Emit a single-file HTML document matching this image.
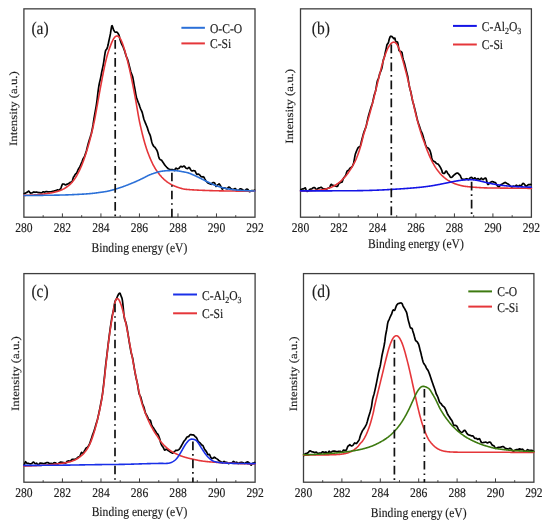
<!DOCTYPE html>
<html><head><meta charset="utf-8"><style>
html,body{margin:0;padding:0;background:#fff;}
svg{display:block;will-change:transform;}
text{font-family:"Liberation Serif",serif;fill:#1c1c1c;stroke:#1c1c1c;stroke-width:0.15px;text-rendering:geometricPrecision;}
.t{font-size:11.6px;}
.yl{font-size:11.1px;}
.lt{font-size:15.5px;}
.sub{font-size:8px;}
</style></head><body>
<svg width="550" height="528" viewBox="0 0 550 528">
<rect width="550" height="528" fill="#fff"/>
<rect x="23.90" y="8.85" width="231.10" height="208.35" fill="none" stroke="#3e3e3e" stroke-width="1.3"/>
<line x1="43.16" y1="217.20" x2="43.16" y2="215.20" stroke="#3e3e3e" stroke-width="1"/>
<line x1="62.42" y1="217.20" x2="62.42" y2="213.40" stroke="#3e3e3e" stroke-width="1"/>
<line x1="81.67" y1="217.20" x2="81.67" y2="215.20" stroke="#3e3e3e" stroke-width="1"/>
<line x1="100.93" y1="217.20" x2="100.93" y2="213.40" stroke="#3e3e3e" stroke-width="1"/>
<line x1="120.19" y1="217.20" x2="120.19" y2="215.20" stroke="#3e3e3e" stroke-width="1"/>
<line x1="139.45" y1="217.20" x2="139.45" y2="213.40" stroke="#3e3e3e" stroke-width="1"/>
<line x1="158.71" y1="217.20" x2="158.71" y2="215.20" stroke="#3e3e3e" stroke-width="1"/>
<line x1="177.97" y1="217.20" x2="177.97" y2="213.40" stroke="#3e3e3e" stroke-width="1"/>
<line x1="197.22" y1="217.20" x2="197.22" y2="215.20" stroke="#3e3e3e" stroke-width="1"/>
<line x1="216.48" y1="217.20" x2="216.48" y2="213.40" stroke="#3e3e3e" stroke-width="1"/>
<line x1="235.74" y1="217.20" x2="235.74" y2="215.20" stroke="#3e3e3e" stroke-width="1"/>
<rect x="300.50" y="8.85" width="230.90" height="208.35" fill="none" stroke="#3e3e3e" stroke-width="1.3"/>
<line x1="319.74" y1="217.20" x2="319.74" y2="215.20" stroke="#3e3e3e" stroke-width="1"/>
<line x1="338.98" y1="217.20" x2="338.98" y2="213.40" stroke="#3e3e3e" stroke-width="1"/>
<line x1="358.23" y1="217.20" x2="358.23" y2="215.20" stroke="#3e3e3e" stroke-width="1"/>
<line x1="377.47" y1="217.20" x2="377.47" y2="213.40" stroke="#3e3e3e" stroke-width="1"/>
<line x1="396.71" y1="217.20" x2="396.71" y2="215.20" stroke="#3e3e3e" stroke-width="1"/>
<line x1="415.95" y1="217.20" x2="415.95" y2="213.40" stroke="#3e3e3e" stroke-width="1"/>
<line x1="435.19" y1="217.20" x2="435.19" y2="215.20" stroke="#3e3e3e" stroke-width="1"/>
<line x1="454.43" y1="217.20" x2="454.43" y2="213.40" stroke="#3e3e3e" stroke-width="1"/>
<line x1="473.67" y1="217.20" x2="473.67" y2="215.20" stroke="#3e3e3e" stroke-width="1"/>
<line x1="492.92" y1="217.20" x2="492.92" y2="213.40" stroke="#3e3e3e" stroke-width="1"/>
<line x1="512.16" y1="217.20" x2="512.16" y2="215.20" stroke="#3e3e3e" stroke-width="1"/>
<rect x="23.90" y="273.60" width="231.20" height="208.60" fill="none" stroke="#3e3e3e" stroke-width="1.3"/>
<line x1="43.17" y1="482.20" x2="43.17" y2="480.20" stroke="#3e3e3e" stroke-width="1"/>
<line x1="62.43" y1="482.20" x2="62.43" y2="478.40" stroke="#3e3e3e" stroke-width="1"/>
<line x1="81.70" y1="482.20" x2="81.70" y2="480.20" stroke="#3e3e3e" stroke-width="1"/>
<line x1="100.97" y1="482.20" x2="100.97" y2="478.40" stroke="#3e3e3e" stroke-width="1"/>
<line x1="120.23" y1="482.20" x2="120.23" y2="480.20" stroke="#3e3e3e" stroke-width="1"/>
<line x1="139.50" y1="482.20" x2="139.50" y2="478.40" stroke="#3e3e3e" stroke-width="1"/>
<line x1="158.77" y1="482.20" x2="158.77" y2="480.20" stroke="#3e3e3e" stroke-width="1"/>
<line x1="178.03" y1="482.20" x2="178.03" y2="478.40" stroke="#3e3e3e" stroke-width="1"/>
<line x1="197.30" y1="482.20" x2="197.30" y2="480.20" stroke="#3e3e3e" stroke-width="1"/>
<line x1="216.57" y1="482.20" x2="216.57" y2="478.40" stroke="#3e3e3e" stroke-width="1"/>
<line x1="235.83" y1="482.20" x2="235.83" y2="480.20" stroke="#3e3e3e" stroke-width="1"/>
<rect x="303.50" y="273.60" width="230.40" height="208.60" fill="none" stroke="#3e3e3e" stroke-width="1.3"/>
<line x1="322.70" y1="482.20" x2="322.70" y2="480.20" stroke="#3e3e3e" stroke-width="1"/>
<line x1="341.90" y1="482.20" x2="341.90" y2="478.40" stroke="#3e3e3e" stroke-width="1"/>
<line x1="361.10" y1="482.20" x2="361.10" y2="480.20" stroke="#3e3e3e" stroke-width="1"/>
<line x1="380.30" y1="482.20" x2="380.30" y2="478.40" stroke="#3e3e3e" stroke-width="1"/>
<line x1="399.50" y1="482.20" x2="399.50" y2="480.20" stroke="#3e3e3e" stroke-width="1"/>
<line x1="418.70" y1="482.20" x2="418.70" y2="478.40" stroke="#3e3e3e" stroke-width="1"/>
<line x1="437.90" y1="482.20" x2="437.90" y2="480.20" stroke="#3e3e3e" stroke-width="1"/>
<line x1="457.10" y1="482.20" x2="457.10" y2="478.40" stroke="#3e3e3e" stroke-width="1"/>
<line x1="476.30" y1="482.20" x2="476.30" y2="480.20" stroke="#3e3e3e" stroke-width="1"/>
<line x1="495.50" y1="482.20" x2="495.50" y2="478.40" stroke="#3e3e3e" stroke-width="1"/>
<line x1="514.70" y1="482.20" x2="514.70" y2="480.20" stroke="#3e3e3e" stroke-width="1"/>
<text transform="translate(23.90,232.00) scale(1,1.15)" class="t" text-anchor="middle">280</text>
<text transform="translate(62.42,232.00) scale(1,1.15)" class="t" text-anchor="middle">282</text>
<text transform="translate(100.93,232.00) scale(1,1.15)" class="t" text-anchor="middle">284</text>
<text transform="translate(139.45,232.00) scale(1,1.15)" class="t" text-anchor="middle">286</text>
<text transform="translate(177.97,232.00) scale(1,1.15)" class="t" text-anchor="middle">288</text>
<text transform="translate(216.48,232.00) scale(1,1.15)" class="t" text-anchor="middle">290</text>
<text transform="translate(255.00,232.00) scale(1,1.15)" class="t" text-anchor="middle">292</text>
<text transform="translate(300.50,232.00) scale(1,1.15)" class="t" text-anchor="middle">280</text>
<text transform="translate(338.98,232.00) scale(1,1.15)" class="t" text-anchor="middle">282</text>
<text transform="translate(377.47,232.00) scale(1,1.15)" class="t" text-anchor="middle">284</text>
<text transform="translate(415.95,232.00) scale(1,1.15)" class="t" text-anchor="middle">286</text>
<text transform="translate(454.43,232.00) scale(1,1.15)" class="t" text-anchor="middle">288</text>
<text transform="translate(492.92,232.00) scale(1,1.15)" class="t" text-anchor="middle">290</text>
<text transform="translate(531.40,232.00) scale(1,1.15)" class="t" text-anchor="middle">292</text>
<text transform="translate(23.90,496.80) scale(1,1.15)" class="t" text-anchor="middle">280</text>
<text transform="translate(62.43,496.80) scale(1,1.15)" class="t" text-anchor="middle">282</text>
<text transform="translate(100.97,496.80) scale(1,1.15)" class="t" text-anchor="middle">284</text>
<text transform="translate(139.50,496.80) scale(1,1.15)" class="t" text-anchor="middle">286</text>
<text transform="translate(178.03,496.80) scale(1,1.15)" class="t" text-anchor="middle">288</text>
<text transform="translate(216.57,496.80) scale(1,1.15)" class="t" text-anchor="middle">290</text>
<text transform="translate(255.10,496.80) scale(1,1.15)" class="t" text-anchor="middle">292</text>
<text transform="translate(303.50,496.80) scale(1,1.15)" class="t" text-anchor="middle">280</text>
<text transform="translate(341.90,496.80) scale(1,1.15)" class="t" text-anchor="middle">282</text>
<text transform="translate(380.30,496.80) scale(1,1.15)" class="t" text-anchor="middle">284</text>
<text transform="translate(418.70,496.80) scale(1,1.15)" class="t" text-anchor="middle">286</text>
<text transform="translate(457.10,496.80) scale(1,1.15)" class="t" text-anchor="middle">288</text>
<text transform="translate(495.50,496.80) scale(1,1.15)" class="t" text-anchor="middle">290</text>
<text transform="translate(533.90,496.80) scale(1,1.15)" class="t" text-anchor="middle">292</text>
<text transform="translate(139.45,252.30) scale(1,1.15)" class="t" text-anchor="middle">Binding energy (eV)</text>
<text transform="translate(415.95,248.20) scale(1,1.15)" class="t" text-anchor="middle">Binding energy (eV)</text>
<text transform="translate(139.50,516.10) scale(1,1.15)" class="t" text-anchor="middle">Binding energy (eV)</text>
<text transform="translate(418.70,517.00) scale(1,1.15)" class="t" text-anchor="middle">Binding energy (eV)</text>
<text transform="translate(16.70,108.60) scale(1,1.15) rotate(-90)" class="yl" text-anchor="middle">Intensity (a.u.)</text>
<text transform="translate(293.40,106.40) scale(1,1.15) rotate(-90)" class="yl" text-anchor="middle">Intensity (a.u.)</text>
<text transform="translate(18.70,373.60) scale(1,1.15) rotate(-90)" class="yl" text-anchor="middle">Intensity (a.u.)</text>
<text transform="translate(297.00,373.80) scale(1,1.15) rotate(-90)" class="yl" text-anchor="middle">Intensity (a.u.)</text>
<text transform="translate(31.40,33.60) scale(1,1.15)" class="lt">(a)</text>
<text transform="translate(311.80,33.90) scale(1,1.15)" class="lt">(b)</text>
<text transform="translate(31.40,296.80) scale(1,1.15)" class="lt">(c)</text>
<text transform="translate(312.10,297.20) scale(1,1.15)" class="lt">(d)</text>
<path d="M24.30,193.45 L24.74,193.33 L25.19,193.23 L25.63,193.09 L26.07,192.83 L26.52,192.59 L26.96,192.39 L27.41,192.05 L27.85,191.68 L28.29,191.34 L28.74,191.11 L29.18,191.65 L29.62,192.20 L30.07,192.76 L30.51,193.05 L30.96,193.04 L31.40,193.01 L31.84,192.94 L32.29,192.74 L32.73,192.48 L33.17,192.18 L33.62,191.97 L34.06,192.07 L34.51,192.18 L34.95,192.29 L35.39,192.26 L35.84,192.17 L36.28,192.13 L36.72,192.14 L37.17,192.22 L37.61,192.33 L38.06,192.45 L38.50,192.54 L38.94,192.60 L39.39,192.63 L39.83,192.63 L40.27,192.71 L40.72,192.81 L41.16,192.89 L41.61,192.88 L42.05,192.58 L42.49,192.27 L42.94,191.96 L43.38,191.89 L43.82,191.96 L44.27,192.03 L44.71,192.07 L45.16,191.91 L45.60,191.74 L46.04,191.56 L46.49,191.52 L46.93,191.66 L47.37,191.82 L47.82,192.01 L48.26,191.96 L48.71,191.87 L49.15,191.80 L49.59,191.76 L50.04,191.75 L50.48,191.75 L50.92,191.74 L51.37,191.69 L51.81,191.61 L52.26,191.50 L52.70,191.29 L53.14,191.23 L53.59,191.12 L54.03,191.00 L54.47,190.86 L54.92,190.71 L55.36,190.61 L55.81,190.53 L56.25,190.37 L56.69,190.18 L57.14,189.98 L57.58,189.83 L58.02,189.97 L58.47,190.06 L58.91,190.11 L59.36,189.89 L59.80,189.48 L60.24,189.05 L60.69,188.62 L61.13,187.49 L61.57,186.27 L62.02,185.02 L62.46,184.16 L62.91,184.02 L63.35,184.02 L63.79,184.06 L64.24,184.28 L64.68,184.55 L65.12,184.83 L65.57,185.02 L66.01,184.84 L66.46,184.61 L66.90,184.33 L67.34,184.13 L67.79,183.98 L68.23,183.81 L68.67,183.63 L69.12,183.31 L69.56,182.94 L70.01,182.55 L70.45,182.26 L70.89,182.20 L71.34,182.10 L71.78,181.97 L72.22,181.00 L72.67,179.70 L73.11,178.35 L73.55,177.07 L74.00,176.45 L74.44,175.74 L74.89,174.97 L75.33,174.35 L75.77,173.90 L76.22,173.49 L76.66,173.13 L77.10,172.08 L77.55,170.99 L77.99,169.94 L78.44,169.00 L78.88,168.29 L79.32,167.58 L79.77,166.88 L80.21,165.98 L80.65,164.98 L81.10,163.95 L81.54,162.89 L81.99,161.79 L82.43,160.64 L82.87,159.43 L83.32,158.45 L83.76,157.74 L84.20,156.97 L84.65,156.14 L85.09,154.89 L85.54,153.56 L85.98,152.20 L86.42,150.74 L86.87,149.04 L87.31,147.26 L87.75,145.42 L88.20,143.83 L88.64,142.34 L89.09,140.84 L89.53,139.33 L89.97,137.89 L90.42,136.49 L90.86,135.08 L91.30,133.44 L91.75,131.50 L92.19,129.39 L92.64,127.05 L93.08,124.49 L93.52,121.54 L93.97,118.62 L94.41,116.04 L94.85,113.55 L95.30,111.14 L95.74,108.70 L96.19,106.08 L96.63,103.18 L97.07,99.82 L97.52,96.19 L97.96,92.46 L98.40,89.04 L98.85,86.14 L99.29,83.76 L99.74,81.80 L100.18,79.87 L100.62,77.84 L101.07,75.55 L101.51,73.23 L101.95,71.00 L102.40,68.93 L102.84,66.82 L103.29,64.61 L103.73,62.05 L104.17,58.93 L104.62,55.83 L105.06,53.20 L105.50,50.90 L105.95,49.96 L106.39,49.44 L106.84,48.92 L107.28,47.90 L107.72,46.33 L108.17,44.54 L108.61,42.27 L109.05,40.12 L109.50,38.10 L109.94,36.09 L110.39,33.90 L110.83,31.20 L111.27,28.40 L111.72,25.99 L112.16,25.71 L112.60,26.88 L113.05,28.36 L113.49,29.75 L113.94,30.44 L114.38,31.17 L114.82,31.82 L115.27,32.22 L115.71,32.26 L116.15,32.15 L116.60,31.98 L117.04,32.26 L117.48,32.74 L117.93,33.32 L118.37,33.97 L118.82,34.67 L119.26,35.96 L119.70,38.01 L120.15,39.84 L120.59,41.24 L121.03,42.51 L121.48,43.72 L121.92,44.54 L122.37,45.39 L122.81,46.26 L123.25,47.25 L123.70,48.43 L124.14,49.60 L124.58,50.77 L125.03,52.20 L125.47,53.68 L125.92,55.13 L126.36,56.53 L126.80,57.51 L127.25,58.57 L127.69,59.73 L128.13,61.21 L128.58,62.92 L129.02,64.65 L129.47,66.42 L129.91,68.18 L130.35,69.94 L130.80,71.70 L131.24,73.20 L131.68,74.21 L132.13,75.28 L132.57,76.45 L133.02,78.53 L133.46,81.01 L133.90,83.56 L134.35,86.12 L134.79,88.50 L135.23,90.91 L135.68,93.52 L136.12,95.85 L136.57,97.71 L137.01,99.18 L137.45,100.32 L137.90,101.51 L138.34,102.61 L138.78,103.62 L139.23,104.73 L139.67,106.19 L140.12,107.52 L140.56,108.79 L141.00,109.72 L141.45,110.57 L141.89,111.58 L142.33,112.88 L142.78,114.62 L143.22,116.46 L143.67,118.28 L144.11,119.76 L144.55,120.90 L145.00,122.02 L145.44,123.11 L145.88,124.19 L146.33,125.24 L146.77,126.24 L147.22,127.34 L147.66,128.79 L148.10,130.16 L148.55,131.50 L148.99,132.57 L149.43,133.55 L149.88,134.61 L150.32,135.80 L150.77,137.58 L151.21,139.51 L151.65,141.43 L152.10,143.03 L152.54,144.10 L152.98,145.01 L153.43,145.85 L153.87,146.37 L154.32,146.79 L154.76,147.16 L155.20,147.61 L155.65,148.41 L156.09,149.09 L156.53,149.70 L156.98,150.56 L157.42,151.68 L157.87,153.07 L158.31,155.18 L158.75,157.00 L159.20,158.31 L159.64,159.04 L160.08,159.53 L160.53,159.77 L160.97,159.95 L161.42,160.10 L161.86,160.61 L162.30,161.25 L162.75,161.93 L163.19,162.63 L163.63,163.30 L164.08,163.97 L164.52,164.63 L164.96,165.22 L165.41,165.75 L165.85,166.25 L166.30,166.71 L166.74,167.21 L167.18,167.68 L167.63,168.16 L168.07,168.56 L168.51,168.81 L168.96,169.04 L169.40,169.24 L169.85,169.44 L170.29,169.60 L170.73,169.69 L171.18,169.71 L171.62,169.68 L172.06,169.65 L172.51,169.61 L172.95,169.76 L173.40,170.05 L173.84,170.33 L174.28,170.62 L174.73,169.94 L175.17,169.22 L175.61,168.50 L176.06,168.19 L176.50,168.55 L176.95,168.81 L177.39,169.02 L177.83,168.87 L178.28,168.62 L178.72,168.39 L179.16,168.14 L179.61,167.58 L180.05,167.01 L180.50,166.45 L180.94,166.28 L181.38,166.47 L181.83,166.70 L182.27,166.97 L182.71,166.70 L183.16,166.39 L183.60,166.10 L184.05,166.01 L184.49,166.33 L184.93,166.80 L185.38,167.50 L185.82,167.93 L186.26,168.23 L186.71,168.44 L187.15,168.50 L187.60,168.57 L188.04,168.21 L188.48,167.73 L188.93,167.44 L189.37,167.60 L189.81,168.17 L190.26,169.00 L190.70,169.68 L191.15,170.30 L191.59,170.74 L192.03,170.87 L192.48,170.85 L192.92,170.78 L193.36,170.69 L193.81,170.69 L194.25,170.75 L194.70,170.85 L195.14,171.03 L195.58,172.00 L196.03,172.98 L196.47,173.96 L196.91,174.42 L197.36,174.30 L197.80,174.20 L198.25,174.09 L198.69,174.29 L199.13,174.58 L199.58,174.90 L200.02,175.29 L200.46,175.87 L200.91,176.37 L201.35,176.77 L201.80,176.86 L202.24,176.79 L202.68,176.72 L203.13,176.67 L203.57,176.89 L204.01,177.33 L204.46,178.18 L204.90,179.10 L205.35,179.91 L205.79,180.67 L206.23,181.25 L206.68,181.71 L207.12,182.18 L207.56,182.64 L208.01,183.02 L208.45,183.25 L208.89,183.40 L209.34,183.47 L209.78,183.70 L210.23,183.96 L210.67,184.16 L211.11,184.29 L211.56,183.85 L212.00,183.39 L212.44,182.91 L212.89,182.66 L213.33,182.67 L213.78,182.68 L214.22,182.80 L214.66,183.03 L215.11,184.00 L215.55,185.38 L215.99,186.48 L216.44,186.28 L216.88,185.68 L217.33,185.06 L217.77,184.71 L218.21,184.52 L218.66,184.31 L219.10,183.95 L219.54,184.39 L219.99,184.93 L220.43,185.70 L220.88,186.57 L221.32,187.41 L221.76,188.29 L222.21,189.13 L222.65,188.94 L223.09,188.50 L223.54,188.08 L223.98,187.76 L224.43,187.97 L224.87,188.11 L225.31,188.17 L225.76,188.36 L226.20,188.62 L226.64,188.80 L227.09,188.93 L227.53,188.39 L227.98,187.84 L228.42,187.36 L228.86,187.09 L229.31,187.21 L229.75,187.51 L230.19,187.93 L230.64,188.37 L231.08,188.77 L231.53,189.09 L231.97,189.27 L232.41,189.41 L232.86,189.50 L233.30,189.54 L233.74,189.36 L234.19,189.02 L234.63,188.73 L235.08,188.51 L235.52,188.77 L235.96,189.21 L236.41,189.73 L236.85,190.19 L237.29,190.43 L237.74,190.55 L238.18,190.48 L238.63,190.21 L239.07,189.82 L239.51,189.38 L239.96,188.97 L240.40,188.83 L240.84,188.81 L241.29,188.96 L241.73,189.19 L242.18,189.44 L242.62,189.75 L243.06,190.03 L243.51,190.52 L243.95,190.87 L244.39,191.01 L244.84,190.90 L245.28,190.43 L245.73,189.92 L246.17,189.45 L246.61,189.21 L247.06,189.16 L247.50,189.23 L247.94,189.42 L248.39,190.12 L248.83,190.83 L249.28,191.51 L249.72,191.72 L250.16,191.43 L250.61,191.10 L251.05,190.77 L251.49,190.70 L251.94,190.65 L252.38,190.59 L252.83,190.54 L253.27,190.55 L253.71,190.53 L254.16,190.49 L254.60,190.21" fill="none" stroke="#000" stroke-width="1.7" stroke-linejoin="round" stroke-linecap="round"/>
<path d="M23.90,195.40 L24.29,195.39 L24.67,195.38 L25.06,195.36 L25.44,195.35 L25.83,195.34 L26.21,195.32 L26.60,195.31 L26.99,195.29 L27.37,195.28 L27.76,195.26 L28.14,195.25 L28.53,195.23 L28.92,195.21 L29.30,195.20 L29.69,195.18 L30.07,195.16 L30.46,195.14 L30.84,195.13 L31.23,195.11 L31.62,195.09 L32.00,195.07 L32.39,195.05 L32.77,195.03 L33.16,195.01 L33.55,194.98 L33.93,194.95 L34.32,194.92 L34.70,194.89 L35.09,194.86 L35.47,194.83 L35.86,194.79 L36.25,194.76 L36.63,194.72 L37.02,194.68 L37.40,194.65 L37.79,194.61 L38.17,194.57 L38.56,194.53 L38.95,194.49 L39.33,194.45 L39.72,194.41 L40.10,194.37 L40.49,194.33 L40.88,194.29 L41.26,194.25 L41.65,194.21 L42.03,194.17 L42.42,194.12 L42.80,194.08 L43.19,194.03 L43.58,193.99 L43.96,193.94 L44.35,193.89 L44.73,193.84 L45.12,193.79 L45.51,193.74 L45.89,193.69 L46.28,193.64 L46.66,193.58 L47.05,193.53 L47.43,193.47 L47.82,193.41 L48.21,193.35 L48.59,193.29 L48.98,193.23 L49.36,193.17 L49.75,193.11 L50.14,193.04 L50.52,192.98 L50.91,192.91 L51.29,192.84 L51.68,192.76 L52.06,192.69 L52.45,192.61 L52.84,192.54 L53.22,192.46 L53.61,192.37 L53.99,192.29 L54.38,192.20 L54.76,192.11 L55.15,192.02 L55.54,191.92 L55.92,191.82 L56.31,191.72 L56.69,191.62 L57.08,191.51 L57.47,191.39 L57.85,191.28 L58.24,191.16 L58.62,191.03 L59.01,190.90 L59.39,190.77 L59.78,190.63 L60.17,190.49 L60.55,190.34 L60.94,190.18 L61.32,190.01 L61.71,189.84 L62.10,189.67 L62.48,189.49 L62.87,189.30 L63.25,189.10 L63.64,188.90 L64.02,188.69 L64.41,188.47 L64.80,188.25 L65.18,188.02 L65.57,187.78 L65.95,187.54 L66.34,187.28 L66.72,187.02 L67.11,186.75 L67.50,186.47 L67.88,186.18 L68.27,185.88 L68.65,185.57 L69.04,185.24 L69.43,184.91 L69.81,184.56 L70.20,184.20 L70.58,183.82 L70.97,183.43 L71.35,183.03 L71.74,182.61 L72.13,182.18 L72.51,181.73 L72.90,181.26 L73.28,180.78 L73.67,180.27 L74.06,179.75 L74.44,179.21 L74.83,178.65 L75.21,178.08 L75.60,177.48 L75.98,176.86 L76.37,176.23 L76.76,175.57 L77.14,174.89 L77.53,174.20 L77.91,173.48 L78.30,172.74 L78.68,171.99 L79.07,171.21 L79.46,170.42 L79.84,169.60 L80.23,168.77 L80.61,167.91 L81.00,167.03 L81.39,166.12 L81.77,165.19 L82.16,164.23 L82.54,163.24 L82.93,162.23 L83.31,161.19 L83.70,160.12 L84.09,159.03 L84.47,157.91 L84.86,156.77 L85.24,155.60 L85.63,154.41 L86.02,153.19 L86.40,151.95 L86.79,150.70 L87.17,149.43 L87.56,148.16 L87.94,146.86 L88.33,145.55 L88.72,144.21 L89.10,142.84 L89.49,141.44 L89.87,140.01 L90.26,138.57 L90.65,137.11 L91.03,135.63 L91.42,134.11 L91.80,132.54 L92.19,130.91 L92.57,129.23 L92.96,127.49 L93.35,125.73 L93.73,123.94 L94.12,122.14 L94.50,120.31 L94.89,118.45 L95.27,116.41 L95.66,114.22 L96.05,111.99 L96.43,109.81 L96.82,107.67 L97.20,105.53 L97.59,103.38 L97.98,101.23 L98.36,99.09 L98.75,96.94 L99.13,94.81 L99.52,92.68 L99.90,90.57 L100.29,88.47 L100.68,86.39 L101.06,84.33 L101.45,82.28 L101.83,80.24 L102.22,78.22 L102.61,76.22 L102.99,74.23 L103.38,72.28 L103.76,70.36 L104.15,68.48 L104.53,66.64 L104.92,64.84 L105.31,63.12 L105.69,61.47 L106.08,59.89 L106.46,58.35 L106.85,56.86 L107.23,55.43 L107.62,54.10 L108.01,52.84 L108.39,51.63 L108.78,50.46 L109.16,49.30 L109.55,48.18 L109.94,47.12 L110.32,46.10 L110.71,45.10 L111.09,44.11 L111.48,43.12 L111.86,42.19 L112.25,41.31 L112.64,40.50 L113.02,39.75 L113.41,39.07 L113.79,38.45 L114.18,37.90 L114.57,37.41 L114.95,36.99 L115.34,36.65 L115.72,36.38 L116.11,36.18 L116.49,36.05 L116.88,36.00 L117.27,36.02 L117.65,36.11 L118.04,36.26 L118.42,36.49 L118.81,36.80 L119.19,37.18 L119.58,37.64 L119.97,38.18 L120.35,38.79 L120.74,39.47 L121.12,40.22 L121.51,41.05 L121.90,41.94 L122.28,42.90 L122.67,43.93 L123.05,45.03 L123.44,46.18 L123.82,47.40 L124.21,48.66 L124.60,49.98 L124.98,51.34 L125.37,52.76 L125.75,54.21 L126.14,55.69 L126.53,57.13 L126.91,58.52 L127.30,59.93 L127.68,61.41 L128.07,62.97 L128.45,64.57 L128.84,66.20 L129.23,67.86 L129.61,69.56 L130.00,71.29 L130.38,73.05 L130.77,74.86 L131.16,76.70 L131.54,78.59 L131.93,80.51 L132.31,82.45 L132.70,84.40 L133.08,86.37 L133.47,88.35 L133.86,90.34 L134.24,92.34 L134.63,94.35 L135.01,96.37 L135.40,98.48 L135.78,100.66 L136.17,102.88 L136.56,105.12 L136.94,107.35 L137.33,109.53 L137.71,111.75 L138.10,114.02 L138.49,116.26 L138.87,118.42 L139.26,120.43 L139.64,122.24 L140.03,123.99 L140.41,125.72 L140.80,127.41 L141.19,129.09 L141.57,130.74 L141.96,132.36 L142.34,133.95 L142.73,135.52 L143.12,137.04 L143.50,138.51 L143.89,139.93 L144.27,141.31 L144.66,142.66 L145.04,143.96 L145.43,145.23 L145.82,146.47 L146.20,147.69 L146.59,148.88 L146.97,150.03 L147.36,151.15 L147.74,152.22 L148.13,153.26 L148.52,154.27 L148.90,155.25 L149.29,156.22 L149.67,157.16 L150.06,158.09 L150.45,159.01 L150.83,159.90 L151.22,160.77 L151.60,161.62 L151.99,162.45 L152.37,163.25 L152.76,164.03 L153.15,164.79 L153.53,165.52 L153.92,166.24 L154.30,166.93 L154.69,167.61 L155.08,168.26 L155.46,168.88 L155.85,169.48 L156.23,170.06 L156.62,170.62 L157.00,171.16 L157.39,171.69 L157.78,172.20 L158.16,172.71 L158.55,173.21 L158.93,173.70 L159.32,174.20 L159.71,174.68 L160.09,175.16 L160.48,175.62 L160.86,176.07 L161.25,176.52 L161.63,176.95 L162.02,177.37 L162.41,177.77 L162.79,178.17 L163.18,178.55 L163.56,178.93 L163.95,179.29 L164.33,179.64 L164.72,179.97 L165.11,180.30 L165.49,180.61 L165.88,180.91 L166.26,181.21 L166.65,181.50 L167.04,181.79 L167.42,182.07 L167.81,182.34 L168.19,182.61 L168.58,182.87 L168.96,183.12 L169.35,183.37 L169.74,183.61 L170.12,183.84 L170.51,184.07 L170.89,184.29 L171.28,184.50 L171.67,184.71 L172.05,184.91 L172.44,185.11 L172.82,185.29 L173.21,185.47 L173.59,185.65 L173.98,185.82 L174.37,185.99 L174.75,186.15 L175.14,186.31 L175.52,186.47 L175.91,186.62 L176.29,186.77 L176.68,186.92 L177.07,187.06 L177.45,187.20 L177.84,187.33 L178.22,187.46 L178.61,187.59 L179.00,187.71 L179.38,187.83 L179.77,187.95 L180.15,188.06 L180.54,188.17 L180.92,188.28 L181.31,188.39 L181.70,188.50 L182.08,188.62 L182.47,188.72 L182.85,188.83 L183.24,188.92 L183.63,189.01 L184.01,189.09 L184.40,189.16 L184.78,189.21 L185.17,189.25 L185.55,189.29 L185.94,189.33 L186.33,189.37 L186.71,189.40 L187.10,189.44 L187.48,189.47 L187.87,189.50 L188.25,189.53 L188.64,189.56 L189.03,189.59 L189.41,189.62 L189.80,189.65 L190.18,189.68 L190.57,189.71 L190.96,189.73 L191.34,189.76 L191.73,189.78 L192.11,189.81 L192.50,189.83 L192.88,189.86 L193.27,189.88 L193.66,189.90 L194.04,189.93 L194.43,189.95 L194.81,189.97 L195.20,189.99 L195.59,190.01 L195.97,190.03 L196.36,190.05 L196.74,190.07 L197.13,190.09 L197.51,190.11 L197.90,190.13 L198.29,190.15 L198.67,190.17 L199.06,190.18 L199.44,190.20 L199.83,190.22 L200.22,190.24 L200.60,190.25 L200.99,190.27 L201.37,190.29 L201.76,190.30 L202.14,190.32 L202.53,190.33 L202.92,190.35 L203.30,190.36 L203.69,190.38 L204.07,190.39 L204.46,190.41 L204.84,190.42 L205.23,190.44 L205.62,190.45 L206.00,190.46 L206.39,190.48 L206.77,190.49 L207.16,190.51 L207.55,190.52 L207.93,190.53 L208.32,190.54 L208.70,190.56 L209.09,190.57 L209.47,190.58 L209.86,190.59 L210.25,190.60 L210.63,190.62 L211.02,190.63 L211.40,190.64 L211.79,190.65 L212.18,190.66 L212.56,190.67 L212.95,190.68 L213.33,190.69 L213.72,190.70 L214.10,190.71 L214.49,190.72 L214.88,190.73 L215.26,190.74 L215.65,190.75 L216.03,190.76 L216.42,190.77 L216.80,190.78 L217.19,190.79 L217.58,190.80 L217.96,190.81 L218.35,190.82 L218.73,190.82 L219.12,190.83 L219.51,190.84 L219.89,190.85 L220.28,190.86 L220.66,190.86 L221.05,190.87 L221.43,190.88 L221.82,190.89 L222.21,190.89 L222.59,190.90 L222.98,190.91 L223.36,190.92 L223.75,190.92 L224.14,190.93 L224.52,190.94 L224.91,190.94 L225.29,190.95 L225.68,190.96 L226.06,190.96 L226.45,190.97 L226.84,190.97 L227.22,190.98 L227.61,190.99 L227.99,190.99 L228.38,191.00 L228.76,191.00 L229.15,191.01 L229.54,191.01 L229.92,191.02 L230.31,191.02 L230.69,191.03 L231.08,191.03 L231.47,191.04 L231.85,191.04 L232.24,191.05 L232.62,191.05 L233.01,191.05 L233.39,191.06 L233.78,191.06 L234.17,191.06 L234.55,191.07 L234.94,191.07 L235.32,191.07 L235.71,191.08 L236.10,191.08 L236.48,191.08 L236.87,191.08 L237.25,191.09 L237.64,191.09 L238.02,191.09 L238.41,191.09 L238.80,191.09 L239.18,191.10 L239.57,191.10 L239.95,191.10 L240.34,191.10 L240.73,191.10 L241.11,191.10 L241.50,191.10 L241.88,191.10 L242.27,191.10 L242.65,191.10 L243.04,191.11 L243.43,191.11 L243.81,191.11 L244.20,191.11 L244.58,191.11 L244.97,191.11 L245.35,191.11 L245.74,191.11 L246.13,191.11 L246.51,191.11 L246.90,191.11 L247.28,191.10 L247.67,191.10 L248.06,191.10 L248.44,191.10 L248.83,191.10 L249.21,191.10 L249.60,191.10 L249.98,191.10 L250.37,191.10 L250.76,191.10 L251.14,191.10 L251.53,191.09 L251.91,191.09 L252.30,191.09 L252.69,191.09 L253.07,191.09 L253.46,191.09 L253.84,191.09 L254.23,191.09 L254.61,191.09 L255.00,191.10" fill="none" stroke="#e5363a" stroke-width="1.6" stroke-linejoin="round" stroke-linecap="round"/>
<path d="M23.90,195.49 L24.29,195.49 L24.67,195.49 L25.06,195.48 L25.44,195.48 L25.83,195.48 L26.21,195.48 L26.60,195.48 L26.99,195.47 L27.37,195.47 L27.76,195.47 L28.14,195.47 L28.53,195.46 L28.92,195.46 L29.30,195.46 L29.69,195.46 L30.07,195.45 L30.46,195.45 L30.84,195.45 L31.23,195.45 L31.62,195.44 L32.00,195.44 L32.39,195.44 L32.77,195.43 L33.16,195.43 L33.55,195.43 L33.93,195.42 L34.32,195.42 L34.70,195.42 L35.09,195.41 L35.47,195.41 L35.86,195.41 L36.25,195.40 L36.63,195.40 L37.02,195.40 L37.40,195.39 L37.79,195.39 L38.17,195.38 L38.56,195.38 L38.95,195.38 L39.33,195.37 L39.72,195.37 L40.10,195.36 L40.49,195.36 L40.88,195.36 L41.26,195.35 L41.65,195.35 L42.03,195.34 L42.42,195.34 L42.80,195.33 L43.19,195.33 L43.58,195.32 L43.96,195.32 L44.35,195.31 L44.73,195.31 L45.12,195.30 L45.51,195.30 L45.89,195.29 L46.28,195.29 L46.66,195.28 L47.05,195.28 L47.43,195.27 L47.82,195.27 L48.21,195.26 L48.59,195.26 L48.98,195.25 L49.36,195.25 L49.75,195.24 L50.14,195.24 L50.52,195.23 L50.91,195.22 L51.29,195.22 L51.68,195.21 L52.06,195.21 L52.45,195.20 L52.84,195.19 L53.22,195.19 L53.61,195.18 L53.99,195.18 L54.38,195.17 L54.76,195.16 L55.15,195.16 L55.54,195.15 L55.92,195.14 L56.31,195.14 L56.69,195.13 L57.08,195.12 L57.47,195.12 L57.85,195.11 L58.24,195.10 L58.62,195.09 L59.01,195.09 L59.39,195.08 L59.78,195.07 L60.17,195.06 L60.55,195.06 L60.94,195.05 L61.32,195.04 L61.71,195.03 L62.10,195.02 L62.48,195.01 L62.87,195.00 L63.25,194.99 L63.64,194.98 L64.02,194.97 L64.41,194.96 L64.80,194.94 L65.18,194.93 L65.57,194.92 L65.95,194.91 L66.34,194.89 L66.72,194.88 L67.11,194.87 L67.50,194.85 L67.88,194.84 L68.27,194.83 L68.65,194.81 L69.04,194.80 L69.43,194.78 L69.81,194.77 L70.20,194.75 L70.58,194.74 L70.97,194.72 L71.35,194.70 L71.74,194.69 L72.13,194.67 L72.51,194.66 L72.90,194.64 L73.28,194.62 L73.67,194.60 L74.06,194.59 L74.44,194.57 L74.83,194.55 L75.21,194.53 L75.60,194.52 L75.98,194.50 L76.37,194.48 L76.76,194.46 L77.14,194.44 L77.53,194.42 L77.91,194.40 L78.30,194.38 L78.68,194.36 L79.07,194.34 L79.46,194.32 L79.84,194.30 L80.23,194.28 L80.61,194.26 L81.00,194.24 L81.39,194.22 L81.77,194.20 L82.16,194.17 L82.54,194.15 L82.93,194.13 L83.31,194.11 L83.70,194.08 L84.09,194.06 L84.47,194.03 L84.86,194.01 L85.24,193.98 L85.63,193.96 L86.02,193.93 L86.40,193.90 L86.79,193.87 L87.17,193.84 L87.56,193.81 L87.94,193.78 L88.33,193.75 L88.72,193.72 L89.10,193.69 L89.49,193.65 L89.87,193.62 L90.26,193.58 L90.65,193.55 L91.03,193.51 L91.42,193.47 L91.80,193.43 L92.19,193.39 L92.57,193.35 L92.96,193.31 L93.35,193.27 L93.73,193.23 L94.12,193.18 L94.50,193.14 L94.89,193.09 L95.27,193.04 L95.66,192.99 L96.05,192.94 L96.43,192.89 L96.82,192.84 L97.20,192.79 L97.59,192.73 L97.98,192.68 L98.36,192.62 L98.75,192.57 L99.13,192.51 L99.52,192.46 L99.90,192.41 L100.29,192.36 L100.68,192.30 L101.06,192.25 L101.45,192.20 L101.83,192.15 L102.22,192.09 L102.61,192.04 L102.99,191.98 L103.38,191.93 L103.76,191.87 L104.15,191.81 L104.53,191.75 L104.92,191.69 L105.31,191.63 L105.69,191.56 L106.08,191.50 L106.46,191.43 L106.85,191.36 L107.23,191.28 L107.62,191.21 L108.01,191.13 L108.39,191.05 L108.78,190.96 L109.16,190.87 L109.55,190.78 L109.94,190.69 L110.32,190.59 L110.71,190.49 L111.09,190.39 L111.48,190.29 L111.86,190.19 L112.25,190.08 L112.64,189.98 L113.02,189.87 L113.41,189.76 L113.79,189.65 L114.18,189.54 L114.57,189.43 L114.95,189.32 L115.34,189.20 L115.72,189.08 L116.11,188.97 L116.49,188.85 L116.88,188.73 L117.27,188.60 L117.65,188.48 L118.04,188.36 L118.42,188.23 L118.81,188.10 L119.19,187.98 L119.58,187.85 L119.97,187.72 L120.35,187.58 L120.74,187.45 L121.12,187.32 L121.51,187.18 L121.90,187.05 L122.28,186.91 L122.67,186.77 L123.05,186.63 L123.44,186.49 L123.82,186.35 L124.21,186.21 L124.60,186.07 L124.98,185.92 L125.37,185.78 L125.75,185.63 L126.14,185.48 L126.53,185.34 L126.91,185.19 L127.30,185.04 L127.68,184.89 L128.07,184.74 L128.45,184.58 L128.84,184.43 L129.23,184.28 L129.61,184.13 L130.00,183.97 L130.38,183.82 L130.77,183.66 L131.16,183.50 L131.54,183.35 L131.93,183.19 L132.31,183.03 L132.70,182.87 L133.08,182.71 L133.47,182.55 L133.86,182.39 L134.24,182.23 L134.63,182.07 L135.01,181.91 L135.40,181.74 L135.78,181.58 L136.17,181.41 L136.56,181.24 L136.94,181.07 L137.33,180.89 L137.71,180.71 L138.10,180.54 L138.49,180.36 L138.87,180.17 L139.26,179.99 L139.64,179.81 L140.03,179.63 L140.41,179.44 L140.80,179.26 L141.19,179.07 L141.57,178.89 L141.96,178.70 L142.34,178.52 L142.73,178.33 L143.12,178.15 L143.50,177.95 L143.89,177.76 L144.27,177.56 L144.66,177.36 L145.04,177.15 L145.43,176.95 L145.82,176.74 L146.20,176.54 L146.59,176.34 L146.97,176.14 L147.36,175.94 L147.74,175.75 L148.13,175.56 L148.52,175.37 L148.90,175.19 L149.29,175.02 L149.67,174.86 L150.06,174.70 L150.45,174.55 L150.83,174.40 L151.22,174.26 L151.60,174.11 L151.99,173.97 L152.37,173.83 L152.76,173.69 L153.15,173.56 L153.53,173.42 L153.92,173.29 L154.30,173.16 L154.69,173.03 L155.08,172.91 L155.46,172.78 L155.85,172.66 L156.23,172.54 L156.62,172.43 L157.00,172.31 L157.39,172.20 L157.78,172.09 L158.16,171.98 L158.55,171.88 L158.93,171.79 L159.32,171.70 L159.71,171.62 L160.09,171.54 L160.48,171.47 L160.86,171.40 L161.25,171.33 L161.63,171.27 L162.02,171.21 L162.41,171.16 L162.79,171.11 L163.18,171.06 L163.56,171.01 L163.95,170.96 L164.33,170.92 L164.72,170.87 L165.11,170.83 L165.49,170.79 L165.88,170.75 L166.26,170.72 L166.65,170.69 L167.04,170.67 L167.42,170.65 L167.81,170.63 L168.19,170.61 L168.58,170.60 L168.96,170.59 L169.35,170.58 L169.74,170.58 L170.12,170.57 L170.51,170.57 L170.89,170.57 L171.28,170.57 L171.67,170.57 L172.05,170.57 L172.44,170.57 L172.82,170.56 L173.21,170.56 L173.59,170.57 L173.98,170.57 L174.37,170.59 L174.75,170.60 L175.14,170.62 L175.52,170.65 L175.91,170.68 L176.29,170.71 L176.68,170.75 L177.07,170.79 L177.45,170.83 L177.84,170.88 L178.22,170.94 L178.61,170.99 L179.00,171.06 L179.38,171.12 L179.77,171.19 L180.15,171.26 L180.54,171.34 L180.92,171.41 L181.31,171.48 L181.70,171.55 L182.08,171.62 L182.47,171.68 L182.85,171.74 L183.24,171.81 L183.63,171.87 L184.01,171.94 L184.40,172.02 L184.78,172.10 L185.17,172.18 L185.55,172.26 L185.94,172.34 L186.33,172.42 L186.71,172.50 L187.10,172.58 L187.48,172.67 L187.87,172.77 L188.25,172.88 L188.64,173.00 L189.03,173.14 L189.41,173.29 L189.80,173.44 L190.18,173.59 L190.57,173.75 L190.96,173.91 L191.34,174.07 L191.73,174.24 L192.11,174.40 L192.50,174.57 L192.88,174.74 L193.27,174.91 L193.66,175.08 L194.04,175.26 L194.43,175.44 L194.81,175.61 L195.20,175.79 L195.59,175.97 L195.97,176.15 L196.36,176.33 L196.74,176.51 L197.13,176.70 L197.51,176.88 L197.90,177.06 L198.29,177.25 L198.67,177.44 L199.06,177.62 L199.44,177.81 L199.83,178.00 L200.22,178.19 L200.60,178.39 L200.99,178.58 L201.37,178.77 L201.76,178.97 L202.14,179.16 L202.53,179.36 L202.92,179.55 L203.30,179.75 L203.69,179.94 L204.07,180.14 L204.46,180.33 L204.84,180.52 L205.23,180.72 L205.62,180.91 L206.00,181.10 L206.39,181.29 L206.77,181.47 L207.16,181.66 L207.55,181.84 L207.93,182.03 L208.32,182.22 L208.70,182.40 L209.09,182.59 L209.47,182.78 L209.86,182.96 L210.25,183.15 L210.63,183.33 L211.02,183.51 L211.40,183.70 L211.79,183.88 L212.18,184.05 L212.56,184.23 L212.95,184.40 L213.33,184.57 L213.72,184.74 L214.10,184.90 L214.49,185.06 L214.88,185.21 L215.26,185.36 L215.65,185.51 L216.03,185.65 L216.42,185.79 L216.80,185.92 L217.19,186.06 L217.58,186.19 L217.96,186.31 L218.35,186.44 L218.73,186.56 L219.12,186.68 L219.51,186.80 L219.89,186.92 L220.28,187.04 L220.66,187.15 L221.05,187.26 L221.43,187.37 L221.82,187.47 L222.21,187.58 L222.59,187.68 L222.98,187.78 L223.36,187.88 L223.75,187.97 L224.14,188.07 L224.52,188.16 L224.91,188.25 L225.29,188.33 L225.68,188.42 L226.06,188.50 L226.45,188.58 L226.84,188.66 L227.22,188.74 L227.61,188.81 L227.99,188.89 L228.38,188.96 L228.76,189.03 L229.15,189.09 L229.54,189.16 L229.92,189.22 L230.31,189.28 L230.69,189.34 L231.08,189.40 L231.47,189.46 L231.85,189.51 L232.24,189.57 L232.62,189.62 L233.01,189.67 L233.39,189.72 L233.78,189.76 L234.17,189.81 L234.55,189.85 L234.94,189.90 L235.32,189.94 L235.71,189.98 L236.10,190.02 L236.48,190.06 L236.87,190.09 L237.25,190.13 L237.64,190.16 L238.02,190.20 L238.41,190.23 L238.80,190.26 L239.18,190.29 L239.57,190.31 L239.95,190.34 L240.34,190.36 L240.73,190.38 L241.11,190.41 L241.50,190.43 L241.88,190.45 L242.27,190.47 L242.65,190.48 L243.04,190.50 L243.43,190.52 L243.81,190.54 L244.20,190.56 L244.58,190.58 L244.97,190.60 L245.35,190.62 L245.74,190.63 L246.13,190.65 L246.51,190.67 L246.90,190.69 L247.28,190.71 L247.67,190.73 L248.06,190.74 L248.44,190.76 L248.83,190.78 L249.21,190.79 L249.60,190.81 L249.98,190.83 L250.37,190.84 L250.76,190.86 L251.14,190.87 L251.53,190.89 L251.91,190.91 L252.30,190.92 L252.69,190.94 L253.07,190.95 L253.46,190.97 L253.84,190.97 L254.23,190.98 L254.61,190.99 L255.00,191.00" fill="none" stroke="#2b70d8" stroke-width="1.6" stroke-linejoin="round" stroke-linecap="round"/>
<line x1="115.20" y1="40.10" x2="115.20" y2="217.20" stroke="#111" stroke-width="1.7" stroke-dasharray="8.6 3.9 1.6 3.9" stroke-dashoffset="0"/>
<line x1="171.90" y1="170.80" x2="171.90" y2="217.20" stroke="#111" stroke-width="1.7" stroke-dasharray="8.6 3.9 1.6 3.9" stroke-dashoffset="-1.9"/>
<path d="M300.90,189.86 L301.34,189.51 L301.79,189.21 L302.23,188.99 L302.67,188.93 L303.12,188.90 L303.56,188.89 L304.00,188.60 L304.45,188.24 L304.89,187.97 L305.33,187.85 L305.78,188.95 L306.22,190.03 L306.66,191.04 L307.11,191.48 L307.55,191.31 L307.99,191.09 L308.44,190.83 L308.88,190.40 L309.32,189.94 L309.77,189.47 L310.21,189.13 L310.65,189.12 L311.10,189.05 L311.54,188.96 L311.98,188.67 L312.43,188.30 L312.87,188.00 L313.31,187.81 L313.76,187.67 L314.20,187.64 L314.64,187.68 L315.09,187.96 L315.53,188.53 L315.97,189.06 L316.42,189.53 L316.86,189.42 L317.30,189.07 L317.75,188.64 L318.19,188.24 L318.63,188.06 L319.08,187.94 L319.52,187.86 L319.96,187.73 L320.41,187.57 L320.85,187.42 L321.29,187.31 L321.74,187.60 L322.18,188.01 L322.62,188.47 L323.07,188.81 L323.51,188.88 L323.95,188.86 L324.40,188.78 L324.84,188.87 L325.28,189.03 L325.73,189.18 L326.17,189.26 L326.61,189.03 L327.06,188.79 L327.50,188.47 L327.94,188.26 L328.39,188.14 L328.83,187.97 L329.27,187.77 L329.72,187.17 L330.16,186.25 L330.60,185.20 L331.05,184.45 L331.49,184.43 L331.93,184.80 L332.38,185.26 L332.82,185.40 L333.26,185.44 L333.71,185.48 L334.15,185.54 L334.59,185.70 L335.04,185.87 L335.48,186.05 L335.92,186.21 L336.37,186.35 L336.81,186.46 L337.25,186.51 L337.70,186.05 L338.14,185.20 L338.58,184.15 L339.03,183.25 L339.47,182.95 L339.92,182.81 L340.36,182.69 L340.80,182.52 L341.25,182.33 L341.69,182.15 L342.13,181.90 L342.58,180.66 L343.02,179.46 L343.46,178.29 L343.91,177.48 L344.35,177.04 L344.79,176.54 L345.24,175.92 L345.68,175.02 L346.12,173.79 L346.57,172.43 L347.01,171.27 L347.45,170.74 L347.90,170.54 L348.34,170.44 L348.78,169.99 L349.23,169.35 L349.67,168.72 L350.11,168.08 L350.56,167.74 L351.00,167.43 L351.44,167.16 L351.89,166.75 L352.33,166.11 L352.77,165.37 L353.22,164.45 L353.66,162.90 L354.10,160.64 L354.55,158.08 L354.99,155.67 L355.43,153.89 L355.88,152.68 L356.32,151.58 L356.76,150.51 L357.21,149.48 L357.65,148.55 L358.09,147.73 L358.54,147.33 L358.98,147.04 L359.42,146.93 L359.87,146.63 L360.31,145.80 L360.75,144.58 L361.20,142.53 L361.64,140.55 L362.08,138.83 L362.53,137.16 L362.97,135.46 L363.41,133.85 L363.86,132.44 L364.30,131.14 L364.74,129.99 L365.19,128.88 L365.63,127.76 L366.07,126.63 L366.52,124.57 L366.96,122.44 L367.40,120.30 L367.85,118.33 L368.29,116.70 L368.73,115.06 L369.18,113.42 L369.62,111.90 L370.06,110.43 L370.51,108.95 L370.95,107.49 L371.39,106.24 L371.84,104.99 L372.28,103.72 L372.72,102.05 L373.17,99.99 L373.61,97.89 L374.05,95.79 L374.50,94.31 L374.94,92.90 L375.38,91.49 L375.83,89.73 L376.27,87.11 L376.71,84.49 L377.16,81.86 L377.60,80.31 L378.04,79.28 L378.49,78.25 L378.93,77.02 L379.37,74.98 L379.82,73.30 L380.26,72.30 L380.70,71.41 L381.15,70.30 L381.59,69.05 L382.03,67.31 L382.48,64.84 L382.92,61.91 L383.36,59.89 L383.81,58.58 L384.25,57.25 L384.69,55.50 L385.14,53.28 L385.58,51.26 L386.02,49.36 L386.47,47.19 L386.91,44.97 L387.35,44.14 L387.80,43.67 L388.24,43.01 L388.68,41.50 L389.13,39.62 L389.57,38.21 L390.01,37.06 L390.46,36.35 L390.90,36.21 L391.34,36.32 L391.79,36.45 L392.23,36.87 L392.67,37.29 L393.12,37.77 L393.56,38.44 L394.00,38.58 L394.45,38.09 L394.89,38.12 L395.33,40.21 L395.78,41.28 L396.22,41.77 L396.66,41.98 L397.11,41.84 L397.55,42.19 L397.99,43.94 L398.44,46.85 L398.88,50.09 L399.32,50.73 L399.77,50.98 L400.21,51.20 L400.65,51.43 L401.10,51.61 L401.54,51.93 L401.98,52.49 L402.43,55.10 L402.87,58.36 L403.31,59.78 L403.76,60.93 L404.20,62.21 L404.64,63.78 L405.09,65.63 L405.53,67.51 L405.97,69.37 L406.42,71.16 L406.86,72.91 L407.30,74.65 L407.75,76.48 L408.19,79.29 L408.63,82.10 L409.08,84.91 L409.52,87.15 L409.96,88.79 L410.41,90.44 L410.85,92.08 L411.29,94.29 L411.74,96.57 L412.18,98.86 L412.62,100.95 L413.07,102.52 L413.51,104.09 L413.95,105.71 L414.40,107.47 L414.84,109.25 L415.28,110.94 L415.73,112.60 L416.17,114.64 L416.62,116.64 L417.06,118.59 L417.50,120.30 L417.95,121.75 L418.39,123.20 L418.83,124.63 L419.28,125.90 L419.72,127.15 L420.16,128.46 L420.61,129.75 L421.05,131.04 L421.49,132.02 L421.94,132.82 L422.38,133.90 L422.82,135.22 L423.27,136.68 L423.71,138.42 L424.15,139.70 L424.60,141.24 L425.04,142.84 L425.48,144.45 L425.93,145.91 L426.37,146.83 L426.81,147.38 L427.26,147.65 L427.70,147.85 L428.14,148.09 L428.59,148.47 L429.03,149.04 L429.47,149.73 L429.92,150.53 L430.36,151.72 L430.80,153.21 L431.25,155.23 L431.69,157.72 L432.13,159.48 L432.58,160.40 L433.02,160.79 L433.46,161.07 L433.91,161.31 L434.35,161.51 L434.79,161.73 L435.24,162.17 L435.68,162.65 L436.12,163.12 L436.57,163.54 L437.01,163.71 L437.45,163.85 L437.90,163.98 L438.34,164.33 L438.78,164.90 L439.23,165.52 L439.67,166.21 L440.11,166.92 L440.56,167.72 L441.00,168.63 L441.44,169.50 L441.89,170.54 L442.33,172.50 L442.77,173.07 L443.22,173.16 L443.66,173.36 L444.10,173.46 L444.55,173.42 L444.99,172.56 L445.43,171.78 L445.88,171.14 L446.32,171.02 L446.76,171.55 L447.21,172.32 L447.65,173.23 L448.09,173.81 L448.54,174.27 L448.98,174.78 L449.42,175.49 L449.87,176.39 L450.31,177.07 L450.75,177.38 L451.20,177.37 L451.64,177.20 L452.08,176.94 L452.53,176.61 L452.97,176.11 L453.41,175.62 L453.86,175.17 L454.30,174.82 L454.74,174.48 L455.19,174.12 L455.63,173.77 L456.07,173.51 L456.52,173.29 L456.96,173.14 L457.40,173.07 L457.85,173.12 L458.29,173.42 L458.73,173.88 L459.18,174.35 L459.62,174.78 L460.06,175.23 L460.51,175.92 L460.95,177.11 L461.39,178.17 L461.84,178.89 L462.28,179.15 L462.72,179.24 L463.17,179.30 L463.61,179.33 L464.05,179.32 L464.50,179.29 L464.94,179.25 L465.38,179.19 L465.83,179.01 L466.27,178.84 L466.71,178.70 L467.16,178.82 L467.60,179.13 L468.04,179.43 L468.49,179.74 L468.93,179.24 L469.37,178.72 L469.82,178.21 L470.26,177.82 L470.70,177.63 L471.15,177.45 L471.59,177.32 L472.03,177.72 L472.48,178.32 L472.92,178.94 L473.36,179.40 L473.81,178.92 L474.25,178.43 L474.69,177.92 L475.14,177.95 L475.58,178.46 L476.02,178.95 L476.47,179.45 L476.91,179.19 L477.35,178.88 L477.80,178.59 L478.24,178.52 L478.68,178.93 L479.13,179.32 L479.57,179.70 L480.01,179.49 L480.46,179.03 L480.90,178.51 L481.34,178.06 L481.79,178.57 L482.23,179.06 L482.67,179.52 L483.12,179.57 L483.56,179.20 L484.00,178.85 L484.45,178.51 L484.89,178.26 L485.33,178.05 L485.78,178.14 L486.22,179.00 L486.66,180.69 L487.11,182.44 L487.55,183.97 L487.99,184.53 L488.44,184.30 L488.88,183.91 L489.32,183.44 L489.77,182.97 L490.21,182.53 L490.65,182.17 L491.10,181.96 L491.54,181.80 L491.98,181.66 L492.43,181.53 L492.87,181.68 L493.32,181.89 L493.76,182.10 L494.20,182.29 L494.65,182.35 L495.09,182.51 L495.53,182.84 L495.98,183.40 L496.42,184.11 L496.86,184.85 L497.31,185.57 L497.75,186.07 L498.19,186.47 L498.64,186.73 L499.08,186.68 L499.52,186.27 L499.97,185.76 L500.41,185.16 L500.85,184.79 L501.30,184.48 L501.74,184.21 L502.18,183.99 L502.63,183.73 L503.07,183.46 L503.51,183.23 L503.96,182.96 L504.40,182.72 L504.84,182.57 L505.29,182.44 L505.73,182.65 L506.17,182.90 L506.62,183.16 L507.06,183.41 L507.50,183.64 L507.95,183.88 L508.39,184.18 L508.83,184.57 L509.28,185.00 L509.72,185.44 L510.16,185.87 L510.61,186.23 L511.05,186.60 L511.49,187.00 L511.94,187.07 L512.38,186.83 L512.82,186.53 L513.27,186.12 L513.71,186.28 L514.15,186.40 L514.60,186.46 L515.04,186.36 L515.48,185.93 L515.93,185.55 L516.37,185.23 L516.81,185.42 L517.26,185.84 L517.70,186.28 L518.14,186.65 L518.59,186.18 L519.03,185.77 L519.47,185.41 L519.92,185.35 L520.36,185.56 L520.80,185.74 L521.25,185.80 L521.69,185.20 L522.13,184.41 L522.58,183.68 L523.02,183.30 L523.46,183.44 L523.91,183.76 L524.35,184.18 L524.79,184.77 L525.24,185.40 L525.68,185.95 L526.12,186.33 L526.57,186.18 L527.01,185.81 L527.45,185.31 L527.90,184.90 L528.34,184.69 L528.78,184.62 L529.23,184.76 L529.67,184.58 L530.11,184.43 L530.56,184.39 L531.00,184.64" fill="none" stroke="#000" stroke-width="1.7" stroke-linejoin="round" stroke-linecap="round"/>
<path d="M300.50,191.05 L300.89,191.04 L301.27,191.02 L301.66,191.01 L302.04,191.00 L302.43,190.99 L302.81,190.97 L303.20,190.96 L303.58,190.95 L303.97,190.93 L304.35,190.92 L304.74,190.90 L305.13,190.89 L305.51,190.88 L305.90,190.86 L306.28,190.85 L306.67,190.83 L307.05,190.81 L307.44,190.80 L307.82,190.78 L308.21,190.76 L308.59,190.75 L308.98,190.73 L309.37,190.71 L309.75,190.69 L310.14,190.68 L310.52,190.66 L310.91,190.64 L311.29,190.62 L311.68,190.60 L312.06,190.58 L312.45,190.55 L312.84,190.53 L313.22,190.51 L313.61,190.49 L313.99,190.46 L314.38,190.44 L314.76,190.41 L315.15,190.39 L315.53,190.36 L315.92,190.33 L316.30,190.30 L316.69,190.28 L317.08,190.25 L317.46,190.21 L317.85,190.18 L318.23,190.15 L318.62,190.12 L319.00,190.08 L319.39,190.04 L319.77,190.01 L320.16,189.97 L320.54,189.93 L320.93,189.89 L321.32,189.84 L321.70,189.80 L322.09,189.75 L322.47,189.69 L322.86,189.63 L323.24,189.56 L323.63,189.49 L324.01,189.42 L324.40,189.34 L324.78,189.26 L325.17,189.17 L325.56,189.08 L325.94,188.99 L326.33,188.89 L326.71,188.80 L327.10,188.70 L327.48,188.59 L327.87,188.48 L328.25,188.36 L328.64,188.24 L329.03,188.11 L329.41,187.98 L329.80,187.84 L330.18,187.70 L330.57,187.55 L330.95,187.39 L331.34,187.23 L331.72,187.06 L332.11,186.89 L332.49,186.72 L332.88,186.53 L333.27,186.34 L333.65,186.14 L334.04,185.93 L334.42,185.72 L334.81,185.49 L335.19,185.26 L335.58,185.02 L335.96,184.77 L336.35,184.52 L336.73,184.26 L337.12,183.99 L337.51,183.72 L337.89,183.44 L338.28,183.16 L338.66,182.87 L339.05,182.57 L339.43,182.26 L339.82,181.93 L340.20,181.60 L340.59,181.26 L340.97,180.91 L341.36,180.55 L341.75,180.18 L342.13,179.81 L342.52,179.43 L342.90,179.05 L343.29,178.66 L343.67,178.27 L344.06,177.87 L344.44,177.47 L344.83,177.05 L345.22,176.62 L345.60,176.18 L345.99,175.73 L346.37,175.25 L346.76,174.77 L347.14,174.27 L347.53,173.76 L347.91,173.23 L348.30,172.68 L348.68,172.12 L349.07,171.56 L349.46,170.99 L349.84,170.41 L350.23,169.83 L350.61,169.24 L351.00,168.64 L351.38,168.02 L351.77,167.39 L352.15,166.75 L352.54,166.08 L352.92,165.39 L353.31,164.68 L353.70,163.97 L354.08,163.26 L354.47,162.53 L354.85,161.79 L355.24,161.02 L355.62,160.21 L356.01,159.37 L356.39,158.47 L356.78,157.52 L357.16,156.53 L357.55,155.51 L357.94,154.47 L358.32,153.39 L358.71,152.29 L359.09,151.16 L359.48,150.01 L359.86,148.83 L360.25,147.60 L360.63,146.29 L361.02,144.89 L361.41,143.43 L361.79,141.92 L362.18,140.38 L362.56,138.73 L362.95,136.98 L363.33,135.55 L363.72,134.26 L364.10,132.98 L364.49,131.71 L364.87,130.43 L365.26,129.15 L365.65,127.86 L366.03,126.56 L366.42,125.23 L366.80,123.90 L367.19,122.57 L367.57,121.24 L367.96,119.91 L368.34,118.57 L368.73,117.21 L369.11,115.85 L369.50,114.47 L369.89,113.08 L370.27,111.68 L370.66,110.29 L371.04,108.90 L371.43,107.51 L371.81,106.09 L372.20,104.65 L372.58,103.17 L372.97,101.65 L373.35,100.10 L373.74,98.54 L374.13,96.98 L374.51,95.41 L374.90,93.85 L375.28,92.28 L375.67,90.71 L376.05,89.13 L376.44,87.56 L376.82,85.99 L377.21,84.41 L377.60,82.84 L377.98,81.28 L378.37,79.72 L378.75,78.17 L379.14,76.64 L379.52,75.08 L379.91,73.51 L380.29,71.92 L380.68,70.34 L381.06,68.73 L381.45,67.15 L381.84,65.72 L382.22,64.35 L382.61,63.01 L382.99,61.72 L383.38,60.45 L383.76,59.21 L384.15,58.00 L384.53,56.82 L384.92,55.68 L385.30,54.57 L385.69,53.50 L386.08,52.47 L386.46,51.48 L386.85,50.52 L387.23,49.61 L387.62,48.76 L388.00,47.98 L388.39,47.26 L388.77,46.58 L389.16,45.96 L389.54,45.38 L389.93,44.85 L390.32,44.37 L390.70,43.93 L391.09,43.54 L391.47,43.19 L391.86,42.89 L392.24,42.64 L392.63,42.44 L393.01,42.29 L393.40,42.20 L393.79,42.17 L394.17,42.20 L394.56,42.29 L394.94,42.45 L395.33,42.68 L395.71,42.98 L396.10,43.35 L396.48,43.79 L396.87,44.31 L397.25,44.93 L397.64,45.63 L398.03,46.40 L398.41,47.24 L398.80,48.13 L399.18,49.12 L399.57,50.19 L399.95,51.31 L400.34,52.46 L400.72,53.62 L401.11,54.79 L401.49,56.00 L401.88,57.23 L402.27,58.51 L402.65,59.81 L403.04,61.14 L403.42,62.50 L403.81,63.90 L404.19,65.32 L404.58,66.76 L404.96,68.22 L405.35,69.68 L405.73,71.12 L406.12,72.56 L406.51,74.03 L406.89,75.54 L407.28,77.11 L407.66,78.72 L408.05,80.35 L408.43,82.01 L408.82,83.68 L409.20,85.36 L409.59,87.05 L409.98,88.74 L410.36,90.43 L410.75,92.12 L411.13,93.81 L411.52,95.50 L411.90,97.20 L412.29,98.89 L412.67,100.59 L413.06,102.29 L413.44,104.03 L413.83,105.79 L414.22,107.55 L414.60,109.29 L414.99,110.99 L415.37,112.64 L415.76,114.22 L416.14,115.75 L416.53,117.26 L416.91,118.73 L417.30,120.17 L417.68,121.59 L418.07,123.00 L418.46,124.39 L418.84,125.77 L419.23,127.14 L419.61,128.48 L420.00,129.80 L420.38,131.10 L420.77,132.38 L421.15,133.62 L421.54,134.84 L421.92,136.02 L422.31,137.18 L422.70,138.25 L423.08,139.23 L423.47,140.17 L423.85,141.12 L424.24,142.12 L424.62,143.23 L425.01,144.35 L425.39,145.44 L425.78,146.52 L426.17,147.58 L426.55,148.62 L426.94,149.63 L427.32,150.63 L427.71,151.60 L428.09,152.56 L428.48,153.50 L428.86,154.41 L429.25,155.31 L429.63,156.19 L430.02,157.06 L430.41,157.90 L430.79,158.72 L431.18,159.52 L431.56,160.30 L431.95,161.07 L432.33,161.82 L432.72,162.56 L433.10,163.27 L433.49,163.98 L433.87,164.66 L434.26,165.33 L434.65,165.98 L435.03,166.62 L435.42,167.23 L435.80,167.83 L436.19,168.41 L436.57,168.98 L436.96,169.53 L437.34,170.07 L437.73,170.59 L438.11,171.10 L438.50,171.59 L438.89,172.07 L439.27,172.54 L439.66,172.99 L440.04,173.44 L440.43,173.86 L440.81,174.28 L441.20,174.69 L441.58,175.08 L441.97,175.46 L442.36,175.83 L442.74,176.20 L443.13,176.55 L443.51,176.89 L443.90,177.22 L444.28,177.55 L444.67,177.86 L445.05,178.17 L445.44,178.47 L445.82,178.76 L446.21,179.04 L446.60,179.31 L446.98,179.58 L447.37,179.84 L447.75,180.09 L448.14,180.33 L448.52,180.57 L448.91,180.80 L449.29,181.02 L449.68,181.24 L450.06,181.46 L450.45,181.67 L450.84,181.87 L451.22,182.08 L451.61,182.27 L451.99,182.46 L452.38,182.65 L452.76,182.83 L453.15,183.00 L453.53,183.17 L453.92,183.34 L454.30,183.49 L454.69,183.65 L455.08,183.80 L455.46,183.94 L455.85,184.07 L456.23,184.20 L456.62,184.33 L457.00,184.45 L457.39,184.57 L457.77,184.69 L458.16,184.80 L458.55,184.91 L458.93,185.02 L459.32,185.13 L459.70,185.24 L460.09,185.34 L460.47,185.44 L460.86,185.53 L461.24,185.62 L461.63,185.71 L462.01,185.80 L462.40,185.88 L462.79,185.96 L463.17,186.03 L463.56,186.10 L463.94,186.17 L464.33,186.23 L464.71,186.29 L465.10,186.34 L465.48,186.39 L465.87,186.44 L466.25,186.48 L466.64,186.53 L467.03,186.57 L467.41,186.61 L467.80,186.65 L468.18,186.70 L468.57,186.73 L468.95,186.77 L469.34,186.81 L469.72,186.85 L470.11,186.89 L470.49,186.92 L470.88,186.96 L471.27,186.99 L471.65,187.03 L472.04,187.06 L472.42,187.09 L472.81,187.12 L473.19,187.16 L473.58,187.19 L473.96,187.22 L474.35,187.25 L474.74,187.28 L475.12,187.31 L475.51,187.33 L475.89,187.36 L476.28,187.39 L476.66,187.42 L477.05,187.45 L477.43,187.47 L477.82,187.50 L478.20,187.52 L478.59,187.55 L478.98,187.57 L479.36,187.60 L479.75,187.62 L480.13,187.65 L480.52,187.67 L480.90,187.69 L481.29,187.71 L481.67,187.73 L482.06,187.75 L482.44,187.77 L482.83,187.79 L483.22,187.80 L483.60,187.82 L483.99,187.83 L484.37,187.85 L484.76,187.86 L485.14,187.87 L485.53,187.88 L485.91,187.89 L486.30,187.90 L486.68,187.91 L487.07,187.92 L487.46,187.93 L487.84,187.94 L488.23,187.95 L488.61,187.95 L489.00,187.96 L489.38,187.96 L489.77,187.97 L490.15,187.98 L490.54,187.98 L490.93,187.98 L491.31,187.99 L491.70,187.99 L492.08,188.00 L492.47,188.00 L492.85,188.00 L493.24,188.01 L493.62,188.01 L494.01,188.01 L494.39,188.02 L494.78,188.02 L495.17,188.02 L495.55,188.03 L495.94,188.03 L496.32,188.03 L496.71,188.04 L497.09,188.04 L497.48,188.04 L497.86,188.05 L498.25,188.05 L498.63,188.05 L499.02,188.06 L499.41,188.06 L499.79,188.07 L500.18,188.08 L500.56,188.08 L500.95,188.09 L501.33,188.09 L501.72,188.10 L502.10,188.10 L502.49,188.11 L502.87,188.11 L503.26,188.12 L503.65,188.12 L504.03,188.13 L504.42,188.13 L504.80,188.14 L505.19,188.14 L505.57,188.15 L505.96,188.15 L506.34,188.16 L506.73,188.16 L507.12,188.16 L507.50,188.17 L507.89,188.17 L508.27,188.18 L508.66,188.18 L509.04,188.18 L509.43,188.19 L509.81,188.19 L510.20,188.19 L510.58,188.20 L510.97,188.20 L511.36,188.20 L511.74,188.21 L512.13,188.21 L512.51,188.21 L512.90,188.22 L513.28,188.22 L513.67,188.22 L514.05,188.23 L514.44,188.23 L514.82,188.23 L515.21,188.24 L515.60,188.24 L515.98,188.24 L516.37,188.25 L516.75,188.25 L517.14,188.25 L517.52,188.25 L517.91,188.26 L518.29,188.26 L518.68,188.26 L519.06,188.27 L519.45,188.27 L519.84,188.27 L520.22,188.27 L520.61,188.28 L520.99,188.28 L521.38,188.28 L521.76,188.28 L522.15,188.29 L522.53,188.29 L522.92,188.29 L523.31,188.30 L523.69,188.30 L524.08,188.30 L524.46,188.30 L524.85,188.31 L525.23,188.31 L525.62,188.31 L526.00,188.31 L526.39,188.32 L526.77,188.32 L527.16,188.32 L527.55,188.33 L527.93,188.33 L528.32,188.33 L528.70,188.33 L529.09,188.34 L529.47,188.34 L529.86,188.35 L530.24,188.36 L530.63,188.36 L531.01,188.37 L531.40,188.38" fill="none" stroke="#e5363a" stroke-width="1.6" stroke-linejoin="round" stroke-linecap="round"/>
<path d="M300.50,190.87 L300.89,190.87 L301.27,190.87 L301.66,190.87 L302.04,190.87 L302.43,190.87 L302.81,190.86 L303.20,190.86 L303.58,190.86 L303.97,190.86 L304.35,190.86 L304.74,190.86 L305.13,190.86 L305.51,190.86 L305.90,190.86 L306.28,190.86 L306.67,190.86 L307.05,190.86 L307.44,190.86 L307.82,190.86 L308.21,190.86 L308.59,190.86 L308.98,190.86 L309.37,190.86 L309.75,190.86 L310.14,190.86 L310.52,190.86 L310.91,190.86 L311.29,190.86 L311.68,190.86 L312.06,190.86 L312.45,190.86 L312.84,190.85 L313.22,190.85 L313.61,190.85 L313.99,190.85 L314.38,190.85 L314.76,190.85 L315.15,190.85 L315.53,190.85 L315.92,190.85 L316.30,190.85 L316.69,190.85 L317.08,190.85 L317.46,190.85 L317.85,190.85 L318.23,190.85 L318.62,190.85 L319.00,190.85 L319.39,190.85 L319.77,190.85 L320.16,190.85 L320.54,190.85 L320.93,190.84 L321.32,190.84 L321.70,190.84 L322.09,190.84 L322.47,190.84 L322.86,190.84 L323.24,190.84 L323.63,190.84 L324.01,190.84 L324.40,190.84 L324.78,190.84 L325.17,190.84 L325.56,190.84 L325.94,190.84 L326.33,190.84 L326.71,190.84 L327.10,190.84 L327.48,190.83 L327.87,190.83 L328.25,190.83 L328.64,190.83 L329.03,190.83 L329.41,190.83 L329.80,190.83 L330.18,190.83 L330.57,190.83 L330.95,190.83 L331.34,190.83 L331.72,190.83 L332.11,190.83 L332.49,190.82 L332.88,190.82 L333.27,190.82 L333.65,190.82 L334.04,190.82 L334.42,190.82 L334.81,190.82 L335.19,190.82 L335.58,190.82 L335.96,190.82 L336.35,190.81 L336.73,190.81 L337.12,190.81 L337.51,190.81 L337.89,190.81 L338.28,190.81 L338.66,190.81 L339.05,190.81 L339.43,190.80 L339.82,190.80 L340.20,190.80 L340.59,190.80 L340.97,190.80 L341.36,190.80 L341.75,190.80 L342.13,190.79 L342.52,190.79 L342.90,190.79 L343.29,190.79 L343.67,190.79 L344.06,190.78 L344.44,190.78 L344.83,190.78 L345.22,190.78 L345.60,190.78 L345.99,190.77 L346.37,190.77 L346.76,190.77 L347.14,190.77 L347.53,190.76 L347.91,190.76 L348.30,190.76 L348.68,190.76 L349.07,190.75 L349.46,190.75 L349.84,190.75 L350.23,190.74 L350.61,190.74 L351.00,190.74 L351.38,190.74 L351.77,190.73 L352.15,190.73 L352.54,190.72 L352.92,190.72 L353.31,190.72 L353.70,190.71 L354.08,190.71 L354.47,190.70 L354.85,190.70 L355.24,190.70 L355.62,190.69 L356.01,190.69 L356.39,190.68 L356.78,190.68 L357.16,190.67 L357.55,190.67 L357.94,190.66 L358.32,190.66 L358.71,190.65 L359.09,190.64 L359.48,190.64 L359.86,190.63 L360.25,190.63 L360.63,190.62 L361.02,190.61 L361.41,190.61 L361.79,190.60 L362.18,190.59 L362.56,190.58 L362.95,190.58 L363.33,190.57 L363.72,190.56 L364.10,190.55 L364.49,190.55 L364.87,190.54 L365.26,190.53 L365.65,190.52 L366.03,190.51 L366.42,190.50 L366.80,190.49 L367.19,190.48 L367.57,190.47 L367.96,190.46 L368.34,190.45 L368.73,190.44 L369.11,190.43 L369.50,190.42 L369.89,190.41 L370.27,190.40 L370.66,190.39 L371.04,190.37 L371.43,190.36 L371.81,190.35 L372.20,190.34 L372.58,190.32 L372.97,190.31 L373.35,190.30 L373.74,190.28 L374.13,190.27 L374.51,190.26 L374.90,190.24 L375.28,190.23 L375.67,190.21 L376.05,190.20 L376.44,190.18 L376.82,190.17 L377.21,190.15 L377.60,190.14 L377.98,190.12 L378.37,190.11 L378.75,190.09 L379.14,190.07 L379.52,190.06 L379.91,190.04 L380.29,190.02 L380.68,190.00 L381.06,189.98 L381.45,189.97 L381.84,189.95 L382.22,189.93 L382.61,189.91 L382.99,189.89 L383.38,189.87 L383.76,189.85 L384.15,189.83 L384.53,189.81 L384.92,189.79 L385.30,189.77 L385.69,189.75 L386.08,189.73 L386.46,189.71 L386.85,189.69 L387.23,189.67 L387.62,189.65 L388.00,189.63 L388.39,189.61 L388.77,189.58 L389.16,189.56 L389.54,189.54 L389.93,189.52 L390.32,189.49 L390.70,189.47 L391.09,189.45 L391.47,189.43 L391.86,189.40 L392.24,189.38 L392.63,189.36 L393.01,189.33 L393.40,189.31 L393.79,189.29 L394.17,189.26 L394.56,189.24 L394.94,189.21 L395.33,189.19 L395.71,189.16 L396.10,189.14 L396.48,189.12 L396.87,189.09 L397.25,189.07 L397.64,189.04 L398.03,189.02 L398.41,188.99 L398.80,188.97 L399.18,188.94 L399.57,188.92 L399.95,188.89 L400.34,188.86 L400.72,188.84 L401.11,188.81 L401.49,188.79 L401.88,188.76 L402.27,188.73 L402.65,188.71 L403.04,188.68 L403.42,188.66 L403.81,188.63 L404.19,188.60 L404.58,188.58 L404.96,188.55 L405.35,188.52 L405.73,188.49 L406.12,188.47 L406.51,188.44 L406.89,188.41 L407.28,188.38 L407.66,188.36 L408.05,188.33 L408.43,188.30 L408.82,188.27 L409.20,188.24 L409.59,188.21 L409.98,188.18 L410.36,188.15 L410.75,188.12 L411.13,188.09 L411.52,188.06 L411.90,188.03 L412.29,188.00 L412.67,187.97 L413.06,187.94 L413.44,187.91 L413.83,187.88 L414.22,187.84 L414.60,187.81 L414.99,187.78 L415.37,187.74 L415.76,187.71 L416.14,187.67 L416.53,187.64 L416.91,187.60 L417.30,187.57 L417.68,187.53 L418.07,187.49 L418.46,187.46 L418.84,187.42 L419.23,187.38 L419.61,187.34 L420.00,187.30 L420.38,187.26 L420.77,187.22 L421.15,187.18 L421.54,187.14 L421.92,187.09 L422.31,187.05 L422.70,187.01 L423.08,186.96 L423.47,186.92 L423.85,186.87 L424.24,186.82 L424.62,186.78 L425.01,186.73 L425.39,186.68 L425.78,186.63 L426.17,186.58 L426.55,186.53 L426.94,186.48 L427.32,186.43 L427.71,186.37 L428.09,186.32 L428.48,186.27 L428.86,186.21 L429.25,186.15 L429.63,186.10 L430.02,186.04 L430.41,185.98 L430.79,185.92 L431.18,185.86 L431.56,185.80 L431.95,185.74 L432.33,185.68 L432.72,185.61 L433.10,185.55 L433.49,185.49 L433.87,185.42 L434.26,185.35 L434.65,185.29 L435.03,185.22 L435.42,185.15 L435.80,185.08 L436.19,185.01 L436.57,184.94 L436.96,184.87 L437.34,184.80 L437.73,184.73 L438.11,184.66 L438.50,184.58 L438.89,184.51 L439.27,184.43 L439.66,184.36 L440.04,184.28 L440.43,184.21 L440.81,184.13 L441.20,184.05 L441.58,183.98 L441.97,183.90 L442.36,183.82 L442.74,183.74 L443.13,183.66 L443.51,183.58 L443.90,183.50 L444.28,183.42 L444.67,183.34 L445.05,183.26 L445.44,183.18 L445.82,183.10 L446.21,183.02 L446.60,182.94 L446.98,182.86 L447.37,182.78 L447.75,182.70 L448.14,182.62 L448.52,182.54 L448.91,182.46 L449.29,182.38 L449.68,182.30 L450.06,182.22 L450.45,182.14 L450.84,182.06 L451.22,181.98 L451.61,181.91 L451.99,181.83 L452.38,181.75 L452.76,181.68 L453.15,181.60 L453.53,181.53 L453.92,181.46 L454.30,181.38 L454.69,181.31 L455.08,181.24 L455.46,181.17 L455.85,181.10 L456.23,181.03 L456.62,180.97 L457.00,180.90 L457.39,180.84 L457.77,180.77 L458.16,180.71 L458.55,180.65 L458.93,180.59 L459.32,180.54 L459.70,180.48 L460.09,180.43 L460.47,180.37 L460.86,180.32 L461.24,180.27 L461.63,180.22 L462.01,180.18 L462.40,180.13 L462.79,180.09 L463.17,180.05 L463.56,180.01 L463.94,179.97 L464.33,179.94 L464.71,179.91 L465.10,179.87 L465.48,179.85 L465.87,179.82 L466.25,179.79 L466.64,179.77 L467.03,179.75 L467.41,179.73 L467.80,179.72 L468.18,179.70 L468.57,179.69 L468.95,179.68 L469.34,179.68 L469.72,179.67 L470.11,179.67 L470.49,179.67 L470.88,179.67 L471.27,179.68 L471.65,179.70 L472.04,179.72 L472.42,179.74 L472.81,179.77 L473.19,179.81 L473.58,179.84 L473.96,179.89 L474.35,179.93 L474.74,179.98 L475.12,180.04 L475.51,180.10 L475.89,180.16 L476.28,180.22 L476.66,180.29 L477.05,180.36 L477.43,180.43 L477.82,180.51 L478.20,180.59 L478.59,180.67 L478.98,180.75 L479.36,180.84 L479.75,180.93 L480.13,181.02 L480.52,181.10 L480.90,181.20 L481.29,181.29 L481.67,181.38 L482.06,181.47 L482.44,181.57 L482.83,181.66 L483.22,181.75 L483.60,181.85 L483.99,181.94 L484.37,182.04 L484.76,182.13 L485.14,182.23 L485.53,182.32 L485.91,182.41 L486.30,182.50 L486.68,182.60 L487.07,182.69 L487.46,182.78 L487.84,182.87 L488.23,182.96 L488.61,183.04 L489.00,183.13 L489.38,183.22 L489.77,183.30 L490.15,183.38 L490.54,183.47 L490.93,183.55 L491.31,183.63 L491.70,183.70 L492.08,183.78 L492.47,183.86 L492.85,183.93 L493.24,184.01 L493.62,184.08 L494.01,184.15 L494.39,184.22 L494.78,184.29 L495.17,184.36 L495.55,184.43 L495.94,184.49 L496.32,184.56 L496.71,184.62 L497.09,184.68 L497.48,184.74 L497.86,184.80 L498.25,184.86 L498.63,184.92 L499.02,184.97 L499.41,185.03 L499.79,185.08 L500.18,185.14 L500.56,185.19 L500.95,185.24 L501.33,185.29 L501.72,185.34 L502.10,185.39 L502.49,185.43 L502.87,185.48 L503.26,185.52 L503.65,185.57 L504.03,185.61 L504.42,185.65 L504.80,185.70 L505.19,185.74 L505.57,185.78 L505.96,185.81 L506.34,185.85 L506.73,185.89 L507.12,185.93 L507.50,185.96 L507.89,186.00 L508.27,186.03 L508.66,186.06 L509.04,186.10 L509.43,186.13 L509.81,186.16 L510.20,186.19 L510.58,186.22 L510.97,186.25 L511.36,186.28 L511.74,186.31 L512.13,186.34 L512.51,186.36 L512.90,186.39 L513.28,186.41 L513.67,186.44 L514.05,186.46 L514.44,186.49 L514.82,186.51 L515.21,186.54 L515.60,186.56 L515.98,186.58 L516.37,186.60 L516.75,186.62 L517.14,186.65 L517.52,186.67 L517.91,186.69 L518.29,186.71 L518.68,186.72 L519.06,186.74 L519.45,186.76 L519.84,186.78 L520.22,186.80 L520.61,186.82 L520.99,186.83 L521.38,186.85 L521.76,186.87 L522.15,186.88 L522.53,186.90 L522.92,186.91 L523.31,186.93 L523.69,186.94 L524.08,186.96 L524.46,186.97 L524.85,186.99 L525.23,187.00 L525.62,187.01 L526.00,187.03 L526.39,187.04 L526.77,187.05 L527.16,187.06 L527.55,187.08 L527.93,187.09 L528.32,187.10 L528.70,187.11 L529.09,187.12 L529.47,187.14 L529.86,187.15 L530.24,187.16 L530.63,187.17 L531.01,187.18 L531.40,187.19" fill="none" stroke="#1414e6" stroke-width="1.6" stroke-linejoin="round" stroke-linecap="round"/>
<line x1="391.30" y1="44.60" x2="391.30" y2="217.20" stroke="#111" stroke-width="1.7" stroke-dasharray="8.6 3.9 1.6 3.9" stroke-dashoffset="0"/>
<line x1="471.60" y1="179.40" x2="471.60" y2="217.20" stroke="#111" stroke-width="1.7" stroke-dasharray="8.6 3.9 1.6 3.9" stroke-dashoffset="-2.4"/>
<path d="M24.30,464.80 L24.74,463.57 L25.19,462.38 L25.63,461.71 L26.08,462.20 L26.52,462.73 L26.96,463.32 L27.41,463.42 L27.85,463.36 L28.30,463.36 L28.74,463.39 L29.18,463.62 L29.63,463.78 L30.07,463.85 L30.52,463.82 L30.96,463.74 L31.40,463.62 L31.85,463.50 L32.29,463.02 L32.73,462.55 L33.18,462.16 L33.62,462.04 L34.07,462.50 L34.51,462.98 L34.95,463.46 L35.40,463.59 L35.84,463.50 L36.29,463.35 L36.73,463.15 L37.17,463.81 L37.62,464.44 L38.06,465.08 L38.51,465.08 L38.95,464.35 L39.39,463.74 L39.84,463.19 L40.28,463.13 L40.73,463.17 L41.17,463.21 L41.61,463.26 L42.06,463.36 L42.50,463.44 L42.95,463.52 L43.39,463.53 L43.83,463.50 L44.28,463.45 L44.72,463.39 L45.16,463.31 L45.61,463.13 L46.05,462.87 L46.50,462.67 L46.94,462.59 L47.38,462.55 L47.83,462.59 L48.27,462.77 L48.72,463.03 L49.16,463.32 L49.60,463.56 L50.05,463.53 L50.49,463.48 L50.94,463.38 L51.38,463.45 L51.82,463.60 L52.27,463.71 L52.71,463.79 L53.16,463.41 L53.60,463.07 L54.04,462.79 L54.49,462.70 L54.93,462.81 L55.38,462.94 L55.82,463.07 L56.26,463.42 L56.71,463.78 L57.15,464.11 L57.59,464.24 L58.04,463.89 L58.48,463.51 L58.93,463.13 L59.37,462.77 L59.81,462.47 L60.26,462.24 L60.70,462.04 L61.15,462.13 L61.59,462.22 L62.03,462.31 L62.48,462.42 L62.92,462.52 L63.37,462.54 L63.81,462.55 L64.25,462.72 L64.70,462.93 L65.14,463.14 L65.59,463.21 L66.03,462.66 L66.47,462.10 L66.92,461.55 L67.36,461.26 L67.81,461.15 L68.25,461.04 L68.69,460.93 L69.14,461.06 L69.58,461.19 L70.02,461.32 L70.47,461.19 L70.91,460.65 L71.36,460.10 L71.80,459.55 L72.24,459.40 L72.69,459.36 L73.13,459.32 L73.58,459.29 L74.02,459.35 L74.46,459.41 L74.91,459.46 L75.35,459.31 L75.80,459.03 L76.24,458.72 L76.68,458.40 L77.13,458.02 L77.57,457.64 L78.02,457.24 L78.46,456.91 L78.90,456.71 L79.35,456.50 L79.79,456.28 L80.24,455.40 L80.68,454.30 L81.12,453.18 L81.57,452.29 L82.01,452.71 L82.45,453.11 L82.90,453.50 L83.34,453.19 L83.79,452.30 L84.23,451.38 L84.67,450.44 L85.12,449.73 L85.56,449.00 L86.01,448.25 L86.45,447.66 L86.89,447.41 L87.34,447.13 L87.78,446.82 L88.23,446.23 L88.67,445.51 L89.11,444.75 L89.56,443.89 L90.00,442.67 L90.45,441.40 L90.89,440.07 L91.33,438.75 L91.78,437.42 L92.22,436.04 L92.67,434.61 L93.11,433.49 L93.55,432.35 L94.00,431.16 L94.44,429.86 L94.88,428.33 L95.33,426.74 L95.77,425.09 L96.22,423.61 L96.66,422.18 L97.10,420.72 L97.55,419.18 L97.99,417.18 L98.44,415.13 L98.88,413.07 L99.32,410.98 L99.77,408.83 L100.21,406.56 L100.66,404.20 L101.10,402.01 L101.54,399.70 L101.99,397.20 L102.43,394.34 L102.88,390.90 L103.32,387.22 L103.76,383.22 L104.21,379.14 L104.65,375.03 L105.10,370.73 L105.54,366.38 L105.98,362.61 L106.43,358.94 L106.87,355.31 L107.32,351.61 L107.76,347.84 L108.20,344.17 L108.65,340.62 L109.09,337.06 L109.53,333.64 L109.98,330.35 L110.42,327.18 L110.87,324.12 L111.31,321.11 L111.75,318.27 L112.20,315.92 L112.64,313.84 L113.09,311.86 L113.53,309.94 L113.97,307.20 L114.42,304.62 L114.86,302.27 L115.31,300.77 L115.75,300.01 L116.19,299.22 L116.64,298.63 L117.08,297.37 L117.53,296.23 L117.97,295.34 L118.41,294.49 L118.86,293.77 L119.30,293.38 L119.75,293.15 L120.19,293.66 L120.63,294.74 L121.08,295.94 L121.52,297.17 L121.96,298.05 L122.41,300.40 L122.85,303.82 L123.30,308.42 L123.74,313.34 L124.18,316.79 L124.63,319.29 L125.07,320.48 L125.52,321.60 L125.96,322.95 L126.40,324.62 L126.85,327.14 L127.29,329.71 L127.74,332.36 L128.18,335.13 L128.62,337.95 L129.07,340.78 L129.51,343.61 L129.96,346.14 L130.40,348.67 L130.84,351.18 L131.29,353.30 L131.73,354.85 L132.18,356.42 L132.62,357.98 L133.06,360.55 L133.51,363.34 L133.95,366.11 L134.39,368.80 L134.84,371.29 L135.28,373.74 L135.73,376.15 L136.17,378.26 L136.61,380.14 L137.06,382.01 L137.50,383.93 L137.95,386.77 L138.39,389.67 L138.83,392.37 L139.28,394.22 L139.72,395.14 L140.17,395.94 L140.61,396.66 L141.05,398.19 L141.50,399.97 L141.94,401.81 L142.39,403.53 L142.83,404.64 L143.27,405.67 L143.72,406.63 L144.16,408.07 L144.61,409.84 L145.05,411.55 L145.49,413.23 L145.94,414.01 L146.38,414.78 L146.82,415.53 L147.27,416.36 L147.71,417.32 L148.16,418.34 L148.60,419.27 L149.04,419.77 L149.49,419.95 L149.93,420.03 L150.38,420.34 L150.82,421.75 L151.26,423.37 L151.71,425.04 L152.15,426.10 L152.60,426.70 L153.04,427.30 L153.48,427.87 L153.93,428.61 L154.37,429.35 L154.82,430.06 L155.26,430.77 L155.70,431.52 L156.15,432.25 L156.59,432.97 L157.04,433.44 L157.48,433.85 L157.92,434.38 L158.37,435.18 L158.81,436.25 L159.25,437.49 L159.70,438.81 L160.14,440.58 L160.59,442.44 L161.03,443.86 L161.47,444.72 L161.92,445.51 L162.36,446.20 L162.81,446.80 L163.25,447.49 L163.69,448.41 L164.14,449.26 L164.58,450.07 L165.03,450.04 L165.47,449.70 L165.91,449.34 L166.36,449.05 L166.80,449.44 L167.25,449.82 L167.69,450.19 L168.13,450.51 L168.58,450.77 L169.02,451.05 L169.47,451.35 L169.91,451.69 L170.35,452.02 L170.80,452.32 L171.24,452.57 L171.68,452.79 L172.13,453.00 L172.57,453.17 L173.02,452.96 L173.46,452.55 L173.90,452.05 L174.35,451.51 L174.79,451.18 L175.24,450.80 L175.68,450.41 L176.12,450.24 L176.57,450.31 L177.01,450.32 L177.46,450.29 L177.90,450.11 L178.34,449.88 L178.79,449.63 L179.23,449.25 L179.68,448.62 L180.12,447.95 L180.56,447.24 L181.01,446.49 L181.45,445.71 L181.90,444.93 L182.34,444.14 L182.78,443.33 L183.23,442.51 L183.67,441.70 L184.12,441.05 L184.56,440.53 L185.00,440.00 L185.45,439.48 L185.89,438.76 L186.33,438.06 L186.78,437.41 L187.22,436.94 L187.67,436.79 L188.11,436.68 L188.55,436.60 L189.00,436.16 L189.44,435.58 L189.89,435.02 L190.33,434.51 L190.77,434.54 L191.22,434.63 L191.66,434.80 L192.11,434.90 L192.55,434.88 L192.99,434.89 L193.44,434.91 L193.88,435.18 L194.33,435.62 L194.77,436.12 L195.21,436.58 L195.66,436.95 L196.10,437.38 L196.55,437.84 L196.99,438.70 L197.43,439.78 L197.88,440.84 L198.32,441.83 L198.76,442.10 L199.21,442.34 L199.65,442.59 L200.10,442.95 L200.54,443.48 L200.98,444.06 L201.43,444.71 L201.87,444.91 L202.32,445.16 L202.76,445.46 L203.20,445.95 L203.65,447.12 L204.09,448.17 L204.54,449.16 L204.98,449.84 L205.42,450.36 L205.87,450.88 L206.31,451.43 L206.76,452.31 L207.20,453.19 L207.64,454.07 L208.09,454.57 L208.53,454.55 L208.98,454.49 L209.42,454.36 L209.86,455.23 L210.31,456.25 L210.75,457.22 L211.19,457.99 L211.64,458.15 L212.08,458.28 L212.53,458.41 L212.97,458.24 L213.41,457.89 L213.86,457.55 L214.30,457.23 L214.75,457.49 L215.19,457.77 L215.63,458.06 L216.08,458.35 L216.52,458.62 L216.97,458.88 L217.41,459.14 L217.85,459.52 L218.30,459.95 L218.74,460.37 L219.19,460.77 L219.63,461.08 L220.07,461.32 L220.52,461.53 L220.96,461.82 L221.41,462.16 L221.85,462.50 L222.29,462.84 L222.74,462.43 L223.18,462.00 L223.62,461.59 L224.07,461.44 L224.51,461.73 L224.96,462.05 L225.40,462.38 L225.84,462.46 L226.29,462.46 L226.73,462.45 L227.18,462.50 L227.62,462.89 L228.06,463.24 L228.51,463.56 L228.95,463.55 L229.40,463.29 L229.84,463.02 L230.28,462.75 L230.73,462.81 L231.17,462.88 L231.62,462.97 L232.06,462.85 L232.50,462.34 L232.95,461.89 L233.39,461.48 L233.84,461.63 L234.28,461.96 L234.72,462.28 L235.17,462.53 L235.61,462.48 L236.05,462.38 L236.50,462.22 L236.94,462.37 L237.39,462.77 L237.83,463.16 L238.27,463.54 L238.72,463.31 L239.16,463.06 L239.61,462.83 L240.05,462.63 L240.49,462.47 L240.94,462.36 L241.38,462.30 L241.83,462.38 L242.27,462.52 L242.71,462.64 L243.16,462.77 L243.60,463.05 L244.05,463.28 L244.49,463.45 L244.93,463.35 L245.38,463.02 L245.82,462.68 L246.27,462.33 L246.71,462.18 L247.15,462.05 L247.60,461.95 L248.04,461.99 L248.48,462.32 L248.93,462.69 L249.37,463.10 L249.82,463.60 L250.26,464.15 L250.70,464.69 L251.15,465.10 L251.59,464.60 L252.04,464.06 L252.48,463.48 L252.92,463.13 L253.37,463.00 L253.81,462.85 L254.26,462.68 L254.70,462.44" fill="none" stroke="#000" stroke-width="1.7" stroke-linejoin="round" stroke-linecap="round"/>
<path d="M23.90,466.12 L24.29,466.10 L24.67,466.09 L25.06,466.08 L25.44,466.06 L25.83,466.05 L26.22,466.04 L26.60,466.02 L26.99,466.01 L27.37,465.99 L27.76,465.98 L28.15,465.97 L28.53,465.95 L28.92,465.94 L29.30,465.92 L29.69,465.91 L30.08,465.89 L30.46,465.87 L30.85,465.86 L31.23,465.84 L31.62,465.83 L32.01,465.81 L32.39,465.79 L32.78,465.78 L33.16,465.76 L33.55,465.74 L33.94,465.72 L34.32,465.70 L34.71,465.69 L35.09,465.67 L35.48,465.65 L35.87,465.63 L36.25,465.61 L36.64,465.59 L37.02,465.57 L37.41,465.55 L37.80,465.53 L38.18,465.51 L38.57,465.49 L38.95,465.47 L39.34,465.45 L39.73,465.43 L40.11,465.40 L40.50,465.38 L40.88,465.36 L41.27,465.34 L41.65,465.31 L42.04,465.29 L42.43,465.26 L42.81,465.24 L43.20,465.22 L43.58,465.19 L43.97,465.16 L44.36,465.14 L44.74,465.11 L45.13,465.09 L45.51,465.06 L45.90,465.03 L46.29,465.00 L46.67,464.97 L47.06,464.95 L47.44,464.92 L47.83,464.89 L48.22,464.86 L48.60,464.83 L48.99,464.79 L49.37,464.76 L49.76,464.73 L50.15,464.70 L50.53,464.66 L50.92,464.63 L51.30,464.60 L51.69,464.56 L52.08,464.52 L52.46,464.49 L52.85,464.45 L53.23,464.41 L53.62,464.38 L54.01,464.34 L54.39,464.30 L54.78,464.26 L55.16,464.22 L55.55,464.17 L55.94,464.13 L56.32,464.09 L56.71,464.05 L57.09,464.00 L57.48,463.96 L57.87,463.91 L58.25,463.86 L58.64,463.81 L59.02,463.76 L59.41,463.71 L59.80,463.66 L60.18,463.61 L60.57,463.56 L60.95,463.51 L61.34,463.45 L61.73,463.39 L62.11,463.34 L62.50,463.28 L62.88,463.22 L63.27,463.16 L63.66,463.10 L64.04,463.03 L64.43,462.97 L64.81,462.90 L65.20,462.84 L65.59,462.77 L65.97,462.70 L66.36,462.62 L66.74,462.54 L67.13,462.46 L67.52,462.37 L67.90,462.28 L68.29,462.18 L68.67,462.08 L69.06,461.98 L69.45,461.88 L69.83,461.77 L70.22,461.65 L70.60,461.53 L70.99,461.41 L71.38,461.29 L71.76,461.16 L72.15,461.03 L72.53,460.89 L72.92,460.75 L73.31,460.60 L73.69,460.46 L74.08,460.30 L74.46,460.15 L74.85,459.98 L75.23,459.81 L75.62,459.62 L76.01,459.42 L76.39,459.21 L76.78,458.98 L77.16,458.75 L77.55,458.51 L77.94,458.26 L78.32,458.00 L78.71,457.73 L79.09,457.45 L79.48,457.17 L79.87,456.87 L80.25,456.57 L80.64,456.26 L81.02,455.95 L81.41,455.62 L81.80,455.29 L82.18,454.94 L82.57,454.58 L82.95,454.21 L83.34,453.82 L83.73,453.42 L84.11,453.00 L84.50,452.56 L84.88,452.10 L85.27,451.62 L85.66,451.13 L86.04,450.61 L86.43,450.06 L86.81,449.50 L87.20,448.90 L87.59,448.28 L87.97,447.63 L88.36,446.95 L88.74,446.24 L89.13,445.50 L89.52,444.72 L89.90,443.90 L90.29,443.03 L90.67,442.11 L91.06,441.15 L91.45,440.15 L91.83,439.12 L92.22,438.04 L92.60,436.92 L92.99,435.77 L93.38,434.59 L93.76,433.37 L94.15,432.12 L94.53,430.84 L94.92,429.52 L95.31,428.15 L95.69,426.75 L96.08,425.29 L96.46,423.79 L96.85,422.23 L97.24,420.61 L97.62,418.97 L98.01,417.37 L98.39,415.78 L98.78,414.17 L99.17,412.51 L99.55,410.77 L99.94,408.93 L100.32,406.97 L100.71,404.99 L101.10,402.95 L101.48,400.81 L101.87,398.52 L102.25,396.04 L102.64,393.36 L103.03,390.57 L103.41,387.68 L103.80,384.71 L104.18,381.38 L104.57,377.44 L104.96,373.72 L105.34,370.16 L105.73,366.62 L106.11,363.12 L106.50,359.66 L106.88,356.20 L107.27,352.75 L107.66,349.34 L108.04,346.04 L108.43,342.91 L108.81,339.94 L109.20,337.10 L109.59,334.33 L109.97,331.60 L110.36,329.00 L110.74,326.48 L111.13,324.00 L111.52,321.59 L111.90,319.27 L112.29,316.96 L112.67,314.60 L113.06,312.22 L113.45,309.93 L113.83,307.79 L114.22,305.84 L114.60,304.05 L114.99,302.47 L115.38,301.17 L115.76,300.17 L116.15,299.40 L116.53,298.87 L116.92,298.57 L117.31,298.50 L117.69,298.60 L118.08,298.85 L118.46,299.24 L118.85,299.75 L119.24,300.38 L119.62,301.18 L120.01,302.09 L120.39,303.05 L120.78,304.03 L121.17,305.08 L121.55,306.23 L121.94,307.47 L122.32,308.78 L122.71,310.18 L123.10,311.66 L123.48,313.20 L123.87,314.78 L124.25,316.40 L124.64,318.06 L125.03,319.76 L125.41,321.51 L125.80,323.32 L126.18,325.17 L126.57,327.05 L126.96,328.98 L127.34,330.97 L127.73,333.01 L128.11,335.08 L128.50,337.17 L128.89,339.27 L129.27,341.37 L129.66,343.47 L130.04,345.57 L130.43,347.66 L130.82,349.76 L131.20,351.85 L131.59,353.93 L131.97,356.01 L132.36,358.09 L132.75,360.17 L133.13,362.25 L133.52,364.31 L133.90,366.36 L134.29,368.39 L134.68,370.39 L135.06,372.36 L135.45,374.30 L135.83,376.21 L136.22,378.10 L136.61,379.97 L136.99,381.81 L137.38,383.63 L137.76,385.48 L138.15,387.45 L138.54,389.46 L138.92,391.43 L139.31,393.27 L139.69,394.93 L140.08,396.50 L140.46,398.00 L140.85,399.44 L141.24,400.83 L141.62,402.18 L142.01,403.49 L142.39,404.77 L142.78,406.02 L143.17,407.22 L143.55,408.36 L143.94,409.47 L144.32,410.53 L144.71,411.56 L145.10,412.56 L145.48,413.54 L145.87,414.50 L146.25,415.45 L146.64,416.39 L147.03,417.33 L147.41,418.26 L147.80,419.15 L148.18,420.03 L148.57,420.87 L148.96,421.70 L149.34,422.51 L149.73,423.29 L150.11,424.07 L150.50,424.82 L150.89,425.57 L151.27,426.30 L151.66,427.03 L152.04,427.75 L152.43,428.46 L152.82,429.17 L153.20,429.86 L153.59,430.54 L153.97,431.20 L154.36,431.84 L154.75,432.46 L155.13,433.07 L155.52,433.66 L155.90,434.23 L156.29,434.79 L156.68,435.34 L157.06,435.87 L157.45,436.40 L157.83,436.98 L158.22,437.61 L158.61,438.27 L158.99,438.94 L159.38,439.59 L159.76,440.19 L160.15,440.74 L160.54,441.25 L160.92,441.75 L161.31,442.23 L161.69,442.69 L162.08,443.14 L162.47,443.58 L162.85,444.00 L163.24,444.41 L163.62,444.81 L164.01,445.20 L164.40,445.58 L164.78,445.95 L165.17,446.32 L165.55,446.68 L165.94,447.03 L166.33,447.38 L166.71,447.72 L167.10,448.05 L167.48,448.38 L167.87,448.70 L168.26,449.01 L168.64,449.31 L169.03,449.61 L169.41,449.89 L169.80,450.17 L170.19,450.45 L170.57,450.71 L170.96,450.96 L171.34,451.21 L171.73,451.45 L172.12,451.68 L172.50,451.91 L172.89,452.13 L173.27,452.34 L173.66,452.56 L174.04,452.76 L174.43,452.96 L174.82,453.16 L175.20,453.36 L175.59,453.55 L175.97,453.73 L176.36,453.92 L176.75,454.10 L177.13,454.29 L177.52,454.46 L177.90,454.64 L178.29,454.82 L178.68,454.99 L179.06,455.16 L179.45,455.32 L179.83,455.48 L180.22,455.64 L180.61,455.79 L180.99,455.94 L181.38,456.08 L181.76,456.22 L182.15,456.35 L182.54,456.48 L182.92,456.61 L183.31,456.73 L183.69,456.85 L184.08,456.97 L184.47,457.09 L184.85,457.20 L185.24,457.32 L185.62,457.43 L186.01,457.53 L186.40,457.64 L186.78,457.75 L187.17,457.85 L187.55,457.95 L187.94,458.05 L188.33,458.15 L188.71,458.24 L189.10,458.34 L189.48,458.43 L189.87,458.52 L190.26,458.61 L190.64,458.71 L191.03,458.79 L191.41,458.88 L191.80,458.97 L192.19,459.06 L192.57,459.14 L192.96,459.23 L193.34,459.31 L193.73,459.40 L194.12,459.48 L194.50,459.57 L194.89,459.65 L195.27,459.73 L195.66,459.82 L196.05,459.90 L196.43,459.98 L196.82,460.06 L197.20,460.14 L197.59,460.22 L197.98,460.29 L198.36,460.37 L198.75,460.44 L199.13,460.52 L199.52,460.59 L199.91,460.66 L200.29,460.72 L200.68,460.79 L201.06,460.85 L201.45,460.91 L201.84,460.97 L202.22,461.03 L202.61,461.08 L202.99,461.14 L203.38,461.19 L203.77,461.23 L204.15,461.28 L204.54,461.32 L204.92,461.37 L205.31,461.41 L205.69,461.45 L206.08,461.50 L206.47,461.54 L206.85,461.58 L207.24,461.61 L207.62,461.65 L208.01,461.69 L208.40,461.73 L208.78,461.76 L209.17,461.80 L209.55,461.83 L209.94,461.87 L210.33,461.90 L210.71,461.93 L211.10,461.97 L211.48,462.00 L211.87,462.03 L212.26,462.06 L212.64,462.09 L213.03,462.12 L213.41,462.15 L213.80,462.18 L214.19,462.21 L214.57,462.24 L214.96,462.26 L215.34,462.29 L215.73,462.32 L216.12,462.35 L216.50,462.37 L216.89,462.40 L217.27,462.43 L217.66,462.45 L218.05,462.48 L218.43,462.50 L218.82,462.53 L219.20,462.55 L219.59,462.58 L219.98,462.60 L220.36,462.63 L220.75,462.65 L221.13,462.68 L221.52,462.70 L221.91,462.73 L222.29,462.75 L222.68,462.77 L223.06,462.80 L223.45,462.82 L223.84,462.84 L224.22,462.86 L224.61,462.88 L224.99,462.91 L225.38,462.93 L225.77,462.95 L226.15,462.97 L226.54,462.99 L226.92,463.01 L227.31,463.03 L227.70,463.05 L228.08,463.07 L228.47,463.09 L228.85,463.11 L229.24,463.13 L229.63,463.15 L230.01,463.17 L230.40,463.19 L230.78,463.20 L231.17,463.22 L231.56,463.24 L231.94,463.26 L232.33,463.28 L232.71,463.29 L233.10,463.31 L233.49,463.33 L233.87,463.34 L234.26,463.36 L234.64,463.38 L235.03,463.39 L235.42,463.41 L235.80,463.43 L236.19,463.44 L236.57,463.46 L236.96,463.47 L237.35,463.49 L237.73,463.50 L238.12,463.52 L238.50,463.53 L238.89,463.55 L239.27,463.56 L239.66,463.58 L240.05,463.59 L240.43,463.60 L240.82,463.62 L241.20,463.63 L241.59,463.65 L241.98,463.66 L242.36,463.67 L242.75,463.69 L243.13,463.70 L243.52,463.71 L243.91,463.73 L244.29,463.74 L244.68,463.75 L245.06,463.76 L245.45,463.78 L245.84,463.79 L246.22,463.80 L246.61,463.81 L246.99,463.82 L247.38,463.84 L247.77,463.85 L248.15,463.86 L248.54,463.87 L248.92,463.88 L249.31,463.89 L249.70,463.91 L250.08,463.92 L250.47,463.93 L250.85,463.94 L251.24,463.96 L251.63,463.97 L252.01,463.98 L252.40,464.00 L252.78,464.01 L253.17,464.02 L253.56,464.04 L253.94,464.05 L254.33,464.06 L254.71,464.07 L255.10,464.08" fill="none" stroke="#e5363a" stroke-width="1.6" stroke-linejoin="round" stroke-linecap="round"/>
<path d="M23.90,465.40 L24.29,465.40 L24.67,465.40 L25.06,465.40 L25.44,465.40 L25.83,465.40 L26.22,465.39 L26.60,465.39 L26.99,465.39 L27.37,465.39 L27.76,465.39 L28.15,465.39 L28.53,465.39 L28.92,465.39 L29.30,465.38 L29.69,465.38 L30.08,465.38 L30.46,465.38 L30.85,465.38 L31.23,465.38 L31.62,465.38 L32.01,465.37 L32.39,465.37 L32.78,465.37 L33.16,465.37 L33.55,465.37 L33.94,465.37 L34.32,465.36 L34.71,465.36 L35.09,465.36 L35.48,465.36 L35.87,465.36 L36.25,465.35 L36.64,465.35 L37.02,465.35 L37.41,465.35 L37.80,465.35 L38.18,465.35 L38.57,465.34 L38.95,465.34 L39.34,465.34 L39.73,465.34 L40.11,465.33 L40.50,465.33 L40.88,465.33 L41.27,465.33 L41.65,465.33 L42.04,465.32 L42.43,465.32 L42.81,465.32 L43.20,465.32 L43.58,465.31 L43.97,465.31 L44.36,465.31 L44.74,465.31 L45.13,465.31 L45.51,465.30 L45.90,465.30 L46.29,465.30 L46.67,465.30 L47.06,465.29 L47.44,465.29 L47.83,465.29 L48.22,465.29 L48.60,465.28 L48.99,465.28 L49.37,465.28 L49.76,465.28 L50.15,465.27 L50.53,465.27 L50.92,465.27 L51.30,465.26 L51.69,465.26 L52.08,465.26 L52.46,465.26 L52.85,465.25 L53.23,465.25 L53.62,465.25 L54.01,465.25 L54.39,465.24 L54.78,465.24 L55.16,465.24 L55.55,465.23 L55.94,465.23 L56.32,465.23 L56.71,465.23 L57.09,465.22 L57.48,465.22 L57.87,465.22 L58.25,465.21 L58.64,465.21 L59.02,465.21 L59.41,465.20 L59.80,465.20 L60.18,465.20 L60.57,465.20 L60.95,465.19 L61.34,465.19 L61.73,465.19 L62.11,465.18 L62.50,465.18 L62.88,465.17 L63.27,465.17 L63.66,465.17 L64.04,465.16 L64.43,465.16 L64.81,465.15 L65.20,465.15 L65.59,465.14 L65.97,465.14 L66.36,465.13 L66.74,465.13 L67.13,465.12 L67.52,465.12 L67.90,465.11 L68.29,465.11 L68.67,465.10 L69.06,465.09 L69.45,465.09 L69.83,465.08 L70.22,465.08 L70.60,465.07 L70.99,465.07 L71.38,465.06 L71.76,465.05 L72.15,465.05 L72.53,465.04 L72.92,465.03 L73.31,465.03 L73.69,465.02 L74.08,465.02 L74.46,465.01 L74.85,465.00 L75.23,465.00 L75.62,464.99 L76.01,464.98 L76.39,464.98 L76.78,464.97 L77.16,464.96 L77.55,464.96 L77.94,464.95 L78.32,464.94 L78.71,464.94 L79.09,464.93 L79.48,464.92 L79.87,464.92 L80.25,464.91 L80.64,464.90 L81.02,464.90 L81.41,464.89 L81.80,464.88 L82.18,464.88 L82.57,464.87 L82.95,464.86 L83.34,464.86 L83.73,464.85 L84.11,464.84 L84.50,464.84 L84.88,464.83 L85.27,464.82 L85.66,464.82 L86.04,464.81 L86.43,464.80 L86.81,464.80 L87.20,464.79 L87.59,464.79 L87.97,464.78 L88.36,464.77 L88.74,464.77 L89.13,464.76 L89.52,464.76 L89.90,464.75 L90.29,464.74 L90.67,464.74 L91.06,464.73 L91.45,464.73 L91.83,464.72 L92.22,464.71 L92.60,464.71 L92.99,464.70 L93.38,464.70 L93.76,464.69 L94.15,464.69 L94.53,464.68 L94.92,464.67 L95.31,464.67 L95.69,464.66 L96.08,464.66 L96.46,464.65 L96.85,464.65 L97.24,464.64 L97.62,464.63 L98.01,464.63 L98.39,464.62 L98.78,464.62 L99.17,464.61 L99.55,464.61 L99.94,464.60 L100.32,464.60 L100.71,464.59 L101.10,464.59 L101.48,464.58 L101.87,464.58 L102.25,464.57 L102.64,464.57 L103.03,464.57 L103.41,464.56 L103.80,464.56 L104.18,464.56 L104.57,464.55 L104.96,464.55 L105.34,464.55 L105.73,464.54 L106.11,464.54 L106.50,464.54 L106.88,464.54 L107.27,464.54 L107.66,464.53 L108.04,464.53 L108.43,464.53 L108.81,464.53 L109.20,464.52 L109.59,464.52 L109.97,464.52 L110.36,464.52 L110.74,464.51 L111.13,464.51 L111.52,464.51 L111.90,464.50 L112.29,464.50 L112.67,464.50 L113.06,464.49 L113.45,464.49 L113.83,464.49 L114.22,464.48 L114.60,464.48 L114.99,464.47 L115.38,464.47 L115.76,464.46 L116.15,464.46 L116.53,464.45 L116.92,464.45 L117.31,464.45 L117.69,464.44 L118.08,464.44 L118.46,464.43 L118.85,464.42 L119.24,464.42 L119.62,464.41 L120.01,464.41 L120.39,464.40 L120.78,464.40 L121.17,464.39 L121.55,464.38 L121.94,464.38 L122.32,464.37 L122.71,464.37 L123.10,464.36 L123.48,464.35 L123.87,464.35 L124.25,464.34 L124.64,464.33 L125.03,464.32 L125.41,464.31 L125.80,464.31 L126.18,464.30 L126.57,464.29 L126.96,464.28 L127.34,464.27 L127.73,464.26 L128.11,464.25 L128.50,464.24 L128.89,464.23 L129.27,464.22 L129.66,464.21 L130.04,464.20 L130.43,464.19 L130.82,464.18 L131.20,464.16 L131.59,464.15 L131.97,464.14 L132.36,464.13 L132.75,464.11 L133.13,464.10 L133.52,464.09 L133.90,464.08 L134.29,464.07 L134.68,464.05 L135.06,464.04 L135.45,464.03 L135.83,464.01 L136.22,464.00 L136.61,463.99 L136.99,463.98 L137.38,463.96 L137.76,463.95 L138.15,463.94 L138.54,463.93 L138.92,463.91 L139.31,463.90 L139.69,463.89 L140.08,463.88 L140.46,463.86 L140.85,463.85 L141.24,463.84 L141.62,463.83 L142.01,463.82 L142.39,463.80 L142.78,463.79 L143.17,463.78 L143.55,463.77 L143.94,463.76 L144.32,463.75 L144.71,463.73 L145.10,463.72 L145.48,463.71 L145.87,463.70 L146.25,463.69 L146.64,463.68 L147.03,463.67 L147.41,463.66 L147.80,463.65 L148.18,463.64 L148.57,463.63 L148.96,463.62 L149.34,463.61 L149.73,463.60 L150.11,463.59 L150.50,463.58 L150.89,463.57 L151.27,463.56 L151.66,463.55 L152.04,463.54 L152.43,463.54 L152.82,463.53 L153.20,463.52 L153.59,463.51 L153.97,463.50 L154.36,463.50 L154.75,463.49 L155.13,463.48 L155.52,463.48 L155.90,463.47 L156.29,463.46 L156.68,463.46 L157.06,463.45 L157.45,463.44 L157.83,463.44 L158.22,463.43 L158.61,463.42 L158.99,463.42 L159.38,463.41 L159.76,463.40 L160.15,463.40 L160.54,463.39 L160.92,463.39 L161.31,463.39 L161.69,463.40 L162.08,463.40 L162.47,463.41 L162.85,463.42 L163.24,463.42 L163.62,463.43 L164.01,463.44 L164.40,463.44 L164.78,463.44 L165.17,463.44 L165.55,463.44 L165.94,463.43 L166.33,463.42 L166.71,463.40 L167.10,463.38 L167.48,463.35 L167.87,463.31 L168.26,463.26 L168.64,463.20 L169.03,463.13 L169.41,463.05 L169.80,462.95 L170.19,462.84 L170.57,462.72 L170.96,462.58 L171.34,462.42 L171.73,462.26 L172.12,462.07 L172.50,461.87 L172.89,461.66 L173.27,461.43 L173.66,461.18 L174.04,460.91 L174.43,460.62 L174.82,460.31 L175.20,459.99 L175.59,459.63 L175.97,459.25 L176.36,458.84 L176.75,458.39 L177.13,457.92 L177.52,457.43 L177.90,456.91 L178.29,456.37 L178.68,455.81 L179.06,455.23 L179.45,454.64 L179.83,454.03 L180.22,453.40 L180.61,452.76 L180.99,452.10 L181.38,451.43 L181.76,450.76 L182.15,450.07 L182.54,449.38 L182.92,448.69 L183.31,448.01 L183.69,447.33 L184.08,446.66 L184.47,446.02 L184.85,445.39 L185.24,444.79 L185.62,444.21 L186.01,443.66 L186.40,443.13 L186.78,442.62 L187.17,442.15 L187.55,441.69 L187.94,441.27 L188.33,440.87 L188.71,440.51 L189.10,440.18 L189.48,439.90 L189.87,439.66 L190.26,439.47 L190.64,439.32 L191.03,439.21 L191.41,439.14 L191.80,439.12 L192.19,439.13 L192.57,439.18 L192.96,439.25 L193.34,439.32 L193.73,439.40 L194.12,439.49 L194.50,439.60 L194.89,439.75 L195.27,439.92 L195.66,440.14 L196.05,440.40 L196.43,440.71 L196.82,441.09 L197.20,441.52 L197.59,442.01 L197.98,442.53 L198.36,443.08 L198.75,443.66 L199.13,444.25 L199.52,444.87 L199.91,445.49 L200.29,446.12 L200.68,446.74 L201.06,447.37 L201.45,447.98 L201.84,448.58 L202.22,449.19 L202.61,449.79 L202.99,450.39 L203.38,450.98 L203.77,451.56 L204.15,452.12 L204.54,452.68 L204.92,453.22 L205.31,453.75 L205.69,454.26 L206.08,454.76 L206.47,455.24 L206.85,455.71 L207.24,456.16 L207.62,456.59 L208.01,457.01 L208.40,457.41 L208.78,457.79 L209.17,458.16 L209.55,458.51 L209.94,458.85 L210.33,459.17 L210.71,459.47 L211.10,459.76 L211.48,460.03 L211.87,460.28 L212.26,460.51 L212.64,460.72 L213.03,460.92 L213.41,461.10 L213.80,461.26 L214.19,461.41 L214.57,461.55 L214.96,461.67 L215.34,461.79 L215.73,461.89 L216.12,461.98 L216.50,462.06 L216.89,462.14 L217.27,462.21 L217.66,462.28 L218.05,462.33 L218.43,462.39 L218.82,462.44 L219.20,462.50 L219.59,462.55 L219.98,462.60 L220.36,462.65 L220.75,462.69 L221.13,462.73 L221.52,462.77 L221.91,462.81 L222.29,462.84 L222.68,462.88 L223.06,462.91 L223.45,462.94 L223.84,462.96 L224.22,462.99 L224.61,463.01 L224.99,463.04 L225.38,463.06 L225.77,463.08 L226.15,463.10 L226.54,463.12 L226.92,463.14 L227.31,463.15 L227.70,463.17 L228.08,463.19 L228.47,463.20 L228.85,463.22 L229.24,463.23 L229.63,463.25 L230.01,463.26 L230.40,463.28 L230.78,463.29 L231.17,463.30 L231.56,463.31 L231.94,463.33 L232.33,463.34 L232.71,463.35 L233.10,463.36 L233.49,463.37 L233.87,463.38 L234.26,463.38 L234.64,463.39 L235.03,463.40 L235.42,463.41 L235.80,463.41 L236.19,463.42 L236.57,463.43 L236.96,463.43 L237.35,463.44 L237.73,463.45 L238.12,463.45 L238.50,463.46 L238.89,463.47 L239.27,463.47 L239.66,463.48 L240.05,463.48 L240.43,463.49 L240.82,463.50 L241.20,463.50 L241.59,463.51 L241.98,463.51 L242.36,463.52 L242.75,463.52 L243.13,463.53 L243.52,463.53 L243.91,463.54 L244.29,463.54 L244.68,463.55 L245.06,463.55 L245.45,463.56 L245.84,463.56 L246.22,463.56 L246.61,463.57 L246.99,463.57 L247.38,463.58 L247.77,463.58 L248.15,463.58 L248.54,463.59 L248.92,463.59 L249.31,463.59 L249.70,463.60 L250.08,463.60 L250.47,463.60 L250.85,463.60 L251.24,463.60 L251.63,463.60 L252.01,463.60 L252.40,463.61 L252.78,463.61 L253.17,463.61 L253.56,463.61 L253.94,463.61 L254.33,463.61 L254.71,463.61 L255.10,463.61" fill="none" stroke="#1a30e8" stroke-width="1.6" stroke-linejoin="round" stroke-linecap="round"/>
<line x1="115.00" y1="303.70" x2="115.00" y2="482.20" stroke="#111" stroke-width="1.7" stroke-dasharray="8.6 3.9 1.6 3.9" stroke-dashoffset="0"/>
<line x1="192.90" y1="440.80" x2="192.90" y2="482.20" stroke="#111" stroke-width="1.7" stroke-dasharray="8.6 3.9 1.6 3.9" stroke-dashoffset="-0.8"/>
<path d="M303.90,455.59 L304.34,454.92 L304.78,454.30 L305.23,453.81 L305.67,453.58 L306.11,453.48 L306.55,453.53 L307.00,453.33 L307.44,453.01 L307.88,452.71 L308.32,452.42 L308.77,451.93 L309.21,451.43 L309.65,450.94 L310.09,450.77 L310.54,451.00 L310.98,451.29 L311.42,451.65 L311.86,451.74 L312.31,451.79 L312.75,451.83 L313.19,451.90 L313.63,452.14 L314.07,452.37 L314.52,452.61 L314.96,452.59 L315.40,452.39 L315.84,452.20 L316.29,452.01 L316.73,452.41 L317.17,452.81 L317.61,453.19 L318.06,453.43 L318.50,453.44 L318.94,453.34 L319.38,453.13 L319.83,453.05 L320.27,453.04 L320.71,453.07 L321.15,453.03 L321.60,452.61 L322.04,452.23 L322.48,451.91 L322.92,451.82 L323.37,451.96 L323.81,452.16 L324.25,452.41 L324.69,452.33 L325.13,452.19 L325.58,451.99 L326.02,451.96 L326.46,452.54 L326.90,453.06 L327.35,453.57 L327.79,453.23 L328.23,452.50 L328.67,451.78 L329.12,451.11 L329.56,451.60 L330.00,452.09 L330.44,452.57 L330.89,452.65 L331.33,452.22 L331.77,451.77 L332.21,451.38 L332.66,451.23 L333.10,451.14 L333.54,451.07 L333.98,451.02 L334.42,451.09 L334.87,451.16 L335.31,451.28 L335.75,451.40 L336.19,451.50 L336.64,451.57 L337.08,451.59 L337.52,451.62 L337.96,451.54 L338.41,451.44 L338.85,451.34 L339.29,451.23 L339.73,451.24 L340.18,451.30 L340.62,451.58 L341.06,451.89 L341.50,452.13 L341.95,452.25 L342.39,451.60 L342.83,450.95 L343.27,450.30 L343.72,450.08 L344.16,450.32 L344.60,450.56 L345.04,450.79 L345.48,450.60 L345.93,450.32 L346.37,449.92 L346.81,448.89 L347.25,447.74 L347.70,446.62 L348.14,446.05 L348.58,445.78 L349.02,445.37 L349.47,445.00 L349.91,444.66 L350.35,445.09 L350.79,445.48 L351.24,445.80 L351.68,445.88 L352.12,445.72 L352.56,445.46 L353.01,445.16 L353.45,444.55 L353.89,443.89 L354.33,443.30 L354.77,442.90 L355.22,443.14 L355.66,443.37 L356.10,443.58 L356.54,443.41 L356.99,442.90 L357.43,442.30 L357.87,441.60 L358.31,441.09 L358.76,440.49 L359.20,439.53 L359.64,438.17 L360.08,436.60 L360.53,435.16 L360.97,434.09 L361.41,433.06 L361.85,432.05 L362.30,431.11 L362.74,430.24 L363.18,429.71 L363.62,429.13 L364.06,428.45 L364.51,427.76 L364.95,427.07 L365.39,426.32 L365.83,425.47 L366.28,424.57 L366.72,423.45 L367.16,422.05 L367.60,420.47 L368.05,418.77 L368.49,417.19 L368.93,415.82 L369.37,414.40 L369.82,412.91 L370.26,411.38 L370.70,409.70 L371.14,408.11 L371.59,406.07 L372.03,402.99 L372.47,399.93 L372.91,397.90 L373.36,396.34 L373.80,394.89 L374.24,393.30 L374.68,391.43 L375.12,389.41 L375.57,387.34 L376.01,385.26 L376.45,383.11 L376.89,380.92 L377.34,378.68 L377.78,376.42 L378.22,374.18 L378.66,371.98 L379.11,370.23 L379.55,368.55 L379.99,366.89 L380.43,364.92 L380.88,362.23 L381.32,359.52 L381.76,356.78 L382.20,354.52 L382.65,352.54 L383.09,350.55 L383.53,348.48 L383.97,346.37 L384.41,344.01 L384.86,341.20 L385.30,337.33 L385.74,334.47 L386.18,332.23 L386.63,329.96 L387.07,327.31 L387.51,324.12 L387.95,322.11 L388.40,320.97 L388.84,320.05 L389.28,319.07 L389.72,318.00 L390.17,316.99 L390.61,316.06 L391.05,315.20 L391.49,314.41 L391.94,312.99 L392.38,311.67 L392.82,310.51 L393.26,309.89 L393.71,310.07 L394.15,310.25 L394.59,310.38 L395.03,309.59 L395.47,308.34 L395.92,306.98 L396.36,305.70 L396.80,305.03 L397.24,304.44 L397.69,303.92 L398.13,303.59 L398.57,303.47 L399.01,303.37 L399.46,303.32 L399.90,303.13 L400.34,302.99 L400.78,302.94 L401.23,303.04 L401.67,303.33 L402.11,303.72 L402.55,304.69 L403.00,305.84 L403.44,306.76 L403.88,307.47 L404.32,308.14 L404.76,308.95 L405.21,309.77 L405.65,310.55 L406.09,311.33 L406.53,312.35 L406.98,313.93 L407.42,316.29 L407.86,318.34 L408.30,320.37 L408.75,321.95 L409.19,323.41 L409.63,325.27 L410.07,326.72 L410.52,327.80 L410.96,328.14 L411.40,328.08 L411.84,328.22 L412.29,329.02 L412.73,330.71 L413.17,332.13 L413.61,333.47 L414.05,334.99 L414.50,336.82 L414.94,338.44 L415.38,340.06 L415.82,340.75 L416.27,341.09 L416.71,341.44 L417.15,341.83 L417.59,342.50 L418.04,343.22 L418.48,343.99 L418.92,345.23 L419.36,346.98 L419.81,348.84 L420.25,350.86 L420.69,352.14 L421.13,353.99 L421.58,356.03 L422.02,357.78 L422.46,359.56 L422.90,361.15 L423.35,362.60 L423.79,363.50 L424.23,364.12 L424.67,364.70 L425.11,365.22 L425.56,366.20 L426.00,367.14 L426.44,368.08 L426.88,368.86 L427.33,369.42 L427.77,370.05 L428.21,370.77 L428.65,371.80 L429.10,372.95 L429.54,374.13 L429.98,375.35 L430.42,376.71 L430.87,378.05 L431.31,379.38 L431.75,380.70 L432.19,382.00 L432.64,383.30 L433.08,384.58 L433.52,385.85 L433.96,387.07 L434.40,388.26 L434.85,389.49 L435.29,390.85 L435.73,392.26 L436.17,393.74 L436.62,394.62 L437.06,395.46 L437.50,396.35 L437.94,397.16 L438.39,398.66 L438.83,400.08 L439.27,401.41 L439.71,402.32 L440.16,402.80 L440.60,403.23 L441.04,403.60 L441.48,404.25 L441.93,404.90 L442.37,405.52 L442.81,406.05 L443.25,406.33 L443.69,406.63 L444.14,406.97 L444.58,407.54 L445.02,408.30 L445.46,409.15 L445.91,410.07 L446.35,411.16 L446.79,412.26 L447.23,413.34 L447.68,414.30 L448.12,415.06 L448.56,415.73 L449.00,416.29 L449.45,417.00 L449.89,417.75 L450.33,418.48 L450.77,419.19 L451.22,419.67 L451.66,420.29 L452.10,421.04 L452.54,422.10 L452.99,423.33 L453.43,424.42 L453.87,425.28 L454.31,425.41 L454.75,425.42 L455.20,425.39 L455.64,425.43 L456.08,425.64 L456.52,425.92 L456.97,426.39 L457.41,427.16 L457.85,428.09 L458.29,429.03 L458.74,429.88 L459.18,430.35 L459.62,430.83 L460.06,431.33 L460.51,431.80 L460.95,432.17 L461.39,432.38 L461.83,432.39 L462.28,432.20 L462.72,431.82 L463.16,431.34 L463.60,430.86 L464.04,430.49 L464.49,430.33 L464.93,430.43 L465.37,430.86 L465.81,431.53 L466.26,432.29 L466.70,433.11 L467.14,433.66 L467.58,434.17 L468.03,434.59 L468.47,434.86 L468.91,435.00 L469.35,435.10 L469.80,435.17 L470.24,435.35 L470.68,435.55 L471.12,435.75 L471.57,435.93 L472.01,435.86 L472.45,435.83 L472.89,435.89 L473.34,436.28 L473.78,436.94 L474.22,437.62 L474.66,438.29 L475.10,438.44 L475.55,438.46 L475.99,438.36 L476.43,438.35 L476.87,438.78 L477.32,439.13 L477.76,439.45 L478.20,439.28 L478.64,438.94 L479.09,438.66 L479.53,438.75 L479.97,439.52 L480.41,440.52 L480.86,441.51 L481.30,442.29 L481.74,442.62 L482.18,442.69 L482.63,442.75 L483.07,442.66 L483.51,442.54 L483.95,442.42 L484.39,442.31 L484.84,442.25 L485.28,442.19 L485.72,442.12 L486.16,442.23 L486.61,442.45 L487.05,442.67 L487.49,442.90 L487.93,442.70 L488.38,442.49 L488.82,442.29 L489.26,442.11 L489.70,442.09 L490.15,442.27 L490.59,442.57 L491.03,443.21 L491.47,443.91 L491.92,444.59 L492.36,445.25 L492.80,445.40 L493.24,445.52 L493.68,445.59 L494.13,446.05 L494.57,446.85 L495.01,447.63 L495.45,448.39 L495.90,448.33 L496.34,448.14 L496.78,447.90 L497.22,447.70 L497.67,447.65 L498.11,447.50 L498.55,447.27 L498.99,447.23 L499.44,447.28 L499.88,447.33 L500.32,447.39 L500.76,447.13 L501.21,446.94 L501.65,446.85 L502.09,446.75 L502.53,446.60 L502.98,446.56 L503.42,446.58 L503.86,446.98 L504.30,447.44 L504.74,447.84 L505.19,448.14 L505.63,448.32 L506.07,448.46 L506.51,448.59 L506.96,448.73 L507.40,448.86 L507.84,448.99 L508.28,449.12 L508.73,448.87 L509.17,448.60 L509.61,448.35 L510.05,448.25 L510.50,448.46 L510.94,448.78 L511.38,449.17 L511.82,449.69 L512.27,450.25 L512.71,450.77 L513.15,451.17 L513.59,451.15 L514.03,450.98 L514.48,450.63 L514.92,450.28 L515.36,450.02 L515.80,449.80 L516.25,449.69 L516.69,449.64 L517.13,449.64 L517.57,449.65 L518.02,449.60 L518.46,449.37 L518.90,449.14 L519.34,448.93 L519.79,448.94 L520.23,449.07 L520.67,449.23 L521.11,449.44 L521.56,449.35 L522.00,449.28 L522.44,449.20 L522.88,449.40 L523.33,449.95 L523.77,450.45 L524.21,450.85 L524.65,451.09 L525.09,451.25 L525.54,451.38 L525.98,451.37 L526.42,450.80 L526.86,450.25 L527.31,449.72 L527.75,449.62 L528.19,449.88 L528.63,450.15 L529.08,450.46 L529.52,450.42 L529.96,450.40 L530.40,450.42 L530.85,450.44 L531.29,450.41 L531.73,450.41 L532.17,450.45 L532.62,450.67 L533.06,450.98 L533.50,451.32" fill="none" stroke="#000" stroke-width="1.7" stroke-linejoin="round" stroke-linecap="round"/>
<path d="M303.50,455.10 L303.88,455.10 L304.27,455.10 L304.65,455.10 L305.04,455.09 L305.42,455.09 L305.81,455.09 L306.19,455.09 L306.58,455.09 L306.96,455.09 L307.35,455.08 L307.73,455.08 L308.12,455.08 L308.50,455.08 L308.88,455.08 L309.27,455.07 L309.65,455.07 L310.04,455.07 L310.42,455.07 L310.81,455.06 L311.19,455.06 L311.58,455.06 L311.96,455.05 L312.35,455.05 L312.73,455.05 L313.12,455.05 L313.50,455.04 L313.89,455.04 L314.27,455.04 L314.65,455.03 L315.04,455.03 L315.42,455.03 L315.81,455.02 L316.19,455.02 L316.58,455.01 L316.96,455.01 L317.35,455.01 L317.73,455.00 L318.12,455.00 L318.50,454.99 L318.89,454.99 L319.27,454.99 L319.65,454.98 L320.04,454.98 L320.42,454.97 L320.81,454.97 L321.19,454.96 L321.58,454.96 L321.96,454.95 L322.35,454.95 L322.73,454.94 L323.12,454.94 L323.50,454.93 L323.89,454.93 L324.27,454.92 L324.66,454.91 L325.04,454.91 L325.42,454.90 L325.81,454.90 L326.19,454.89 L326.58,454.88 L326.96,454.87 L327.35,454.87 L327.73,454.86 L328.12,454.85 L328.50,454.84 L328.89,454.83 L329.27,454.83 L329.66,454.82 L330.04,454.81 L330.42,454.80 L330.81,454.79 L331.19,454.78 L331.58,454.77 L331.96,454.75 L332.35,454.74 L332.73,454.73 L333.12,454.72 L333.50,454.70 L333.89,454.69 L334.27,454.67 L334.66,454.66 L335.04,454.64 L335.43,454.62 L335.81,454.61 L336.19,454.59 L336.58,454.57 L336.96,454.54 L337.35,454.52 L337.73,454.50 L338.12,454.47 L338.50,454.45 L338.89,454.42 L339.27,454.39 L339.66,454.36 L340.04,454.33 L340.43,454.29 L340.81,454.26 L341.19,454.21 L341.58,454.17 L341.96,454.12 L342.35,454.07 L342.73,454.01 L343.12,453.96 L343.50,453.89 L343.89,453.82 L344.27,453.75 L344.66,453.68 L345.04,453.60 L345.43,453.51 L345.81,453.42 L346.20,453.33 L346.58,453.23 L346.96,453.12 L347.35,453.01 L347.73,452.89 L348.12,452.77 L348.50,452.64 L348.89,452.51 L349.27,452.36 L349.66,452.20 L350.04,452.03 L350.43,451.85 L350.81,451.66 L351.20,451.46 L351.58,451.24 L351.96,451.02 L352.35,450.79 L352.73,450.55 L353.12,450.31 L353.50,450.06 L353.89,449.80 L354.27,449.53 L354.66,449.26 L355.04,448.98 L355.43,448.68 L355.81,448.37 L356.20,448.05 L356.58,447.71 L356.97,447.36 L357.35,446.99 L357.73,446.60 L358.12,446.19 L358.50,445.77 L358.89,445.31 L359.27,444.81 L359.66,444.30 L360.04,443.79 L360.43,443.33 L360.81,442.92 L361.20,442.54 L361.58,442.14 L361.97,441.69 L362.35,441.19 L362.73,440.68 L363.12,440.13 L363.50,439.56 L363.89,438.95 L364.27,438.30 L364.66,437.61 L365.04,436.89 L365.43,436.15 L365.81,435.37 L366.20,434.57 L366.58,433.73 L366.97,432.85 L367.35,431.94 L367.74,430.99 L368.12,430.01 L368.50,428.98 L368.89,427.90 L369.27,426.79 L369.66,425.63 L370.04,424.44 L370.43,423.20 L370.81,421.93 L371.20,420.61 L371.58,419.26 L371.97,417.85 L372.35,416.41 L372.74,414.91 L373.12,413.37 L373.50,411.79 L373.89,409.53 L374.27,407.50 L374.66,405.88 L375.04,404.26 L375.43,402.64 L375.81,401.02 L376.20,399.41 L376.58,397.79 L376.97,396.17 L377.35,394.55 L377.74,392.96 L378.12,391.39 L378.51,389.83 L378.89,388.27 L379.27,386.71 L379.66,385.15 L380.04,383.57 L380.43,381.98 L380.81,380.41 L381.20,378.86 L381.58,377.30 L381.97,375.74 L382.35,374.17 L382.74,372.58 L383.12,370.96 L383.51,369.31 L383.89,367.67 L384.27,366.05 L384.66,364.43 L385.04,362.84 L385.43,361.26 L385.81,359.71 L386.20,358.19 L386.58,356.68 L386.97,355.19 L387.35,353.73 L387.74,352.29 L388.12,350.90 L388.51,349.57 L388.89,348.29 L389.27,347.08 L389.66,345.93 L390.04,344.83 L390.43,343.79 L390.81,342.80 L391.20,341.86 L391.58,340.99 L391.97,340.17 L392.35,339.42 L392.74,338.73 L393.12,338.12 L393.51,337.58 L393.89,337.11 L394.28,336.71 L394.66,336.38 L395.04,336.12 L395.43,335.93 L395.81,335.79 L396.20,335.72 L396.58,335.72 L396.97,335.80 L397.35,335.95 L397.74,336.17 L398.12,336.46 L398.51,336.82 L398.89,337.24 L399.28,337.73 L399.66,338.28 L400.04,338.89 L400.43,339.56 L400.81,340.30 L401.20,341.10 L401.58,341.96 L401.97,342.88 L402.35,343.87 L402.74,344.91 L403.12,346.02 L403.51,347.18 L403.89,348.40 L404.28,349.67 L404.66,350.99 L405.05,352.36 L405.43,353.76 L405.81,355.21 L406.20,356.67 L406.58,358.14 L406.97,359.61 L407.35,361.10 L407.74,362.60 L408.12,364.14 L408.51,365.71 L408.89,367.33 L409.28,368.98 L409.66,370.64 L410.05,372.32 L410.43,374.02 L410.81,375.73 L411.20,377.45 L411.58,379.19 L411.97,380.95 L412.35,382.71 L412.74,384.48 L413.12,386.25 L413.51,388.01 L413.89,389.78 L414.28,391.53 L414.66,393.27 L415.05,395.00 L415.43,396.73 L415.82,398.46 L416.20,400.17 L416.58,401.88 L416.97,403.56 L417.35,405.23 L417.74,406.88 L418.12,408.51 L418.51,410.11 L418.89,411.68 L419.28,413.21 L419.66,414.72 L420.05,416.19 L420.43,417.62 L420.82,419.01 L421.20,420.36 L421.58,421.66 L421.97,422.92 L422.35,424.15 L422.74,425.34 L423.12,426.50 L423.51,427.63 L423.89,428.72 L424.28,429.78 L424.66,430.81 L425.05,431.81 L425.43,432.77 L425.82,433.71 L426.20,434.61 L426.59,435.48 L426.97,436.32 L427.35,437.13 L427.74,437.91 L428.12,438.66 L428.51,439.38 L428.89,440.04 L429.28,440.60 L429.66,441.11 L430.05,441.62 L430.43,442.12 L430.82,442.61 L431.20,443.06 L431.59,443.50 L431.97,443.92 L432.35,444.32 L432.74,444.72 L433.12,445.10 L433.51,445.47 L433.89,445.84 L434.28,446.20 L434.66,446.55 L435.05,446.88 L435.43,447.19 L435.82,447.48 L436.20,447.76 L436.59,448.03 L436.97,448.28 L437.36,448.52 L437.74,448.75 L438.12,448.97 L438.51,449.17 L438.89,449.37 L439.28,449.55 L439.66,449.73 L440.05,449.90 L440.43,450.06 L440.82,450.21 L441.20,450.36 L441.59,450.49 L441.97,450.62 L442.36,450.73 L442.74,450.84 L443.12,450.94 L443.51,451.04 L443.89,451.12 L444.28,451.20 L444.66,451.28 L445.05,451.35 L445.43,451.41 L445.82,451.47 L446.20,451.53 L446.59,451.58 L446.97,451.63 L447.36,451.68 L447.74,451.72 L448.13,451.76 L448.51,451.80 L448.89,451.83 L449.28,451.86 L449.66,451.89 L450.05,451.92 L450.43,451.94 L450.82,451.97 L451.20,451.99 L451.59,452.01 L451.97,452.03 L452.36,452.04 L452.74,452.06 L453.13,452.07 L453.51,452.09 L453.89,452.10 L454.28,452.11 L454.66,452.12 L455.05,452.13 L455.43,452.14 L455.82,452.15 L456.20,452.15 L456.59,452.16 L456.97,452.17 L457.36,452.17 L457.74,452.18 L458.13,452.18 L458.51,452.19 L458.89,452.19 L459.28,452.20 L459.66,452.20 L460.05,452.21 L460.43,452.21 L460.82,452.21 L461.20,452.21 L461.59,452.22 L461.97,452.22 L462.36,452.22 L462.74,452.22 L463.13,452.23 L463.51,452.23 L463.90,452.23 L464.28,452.23 L464.66,452.23 L465.05,452.23 L465.43,452.24 L465.82,452.24 L466.20,452.24 L466.59,452.24 L466.97,452.24 L467.36,452.24 L467.74,452.24 L468.13,452.24 L468.51,452.25 L468.90,452.25 L469.28,452.25 L469.66,452.25 L470.05,452.25 L470.43,452.25 L470.82,452.25 L471.20,452.25 L471.59,452.25 L471.97,452.25 L472.36,452.25 L472.74,452.25 L473.13,452.26 L473.51,452.26 L473.90,452.26 L474.28,452.26 L474.67,452.26 L475.05,452.26 L475.43,452.26 L475.82,452.26 L476.20,452.26 L476.59,452.26 L476.97,452.26 L477.36,452.26 L477.74,452.26 L478.13,452.27 L478.51,452.27 L478.90,452.27 L479.28,452.27 L479.67,452.27 L480.05,452.27 L480.43,452.27 L480.82,452.27 L481.20,452.27 L481.59,452.27 L481.97,452.27 L482.36,452.27 L482.74,452.27 L483.13,452.27 L483.51,452.28 L483.90,452.28 L484.28,452.28 L484.67,452.28 L485.05,452.28 L485.44,452.28 L485.82,452.28 L486.20,452.28 L486.59,452.28 L486.97,452.28 L487.36,452.28 L487.74,452.28 L488.13,452.28 L488.51,452.28 L488.90,452.29 L489.28,452.29 L489.67,452.29 L490.05,452.29 L490.44,452.29 L490.82,452.29 L491.20,452.29 L491.59,452.29 L491.97,452.29 L492.36,452.29 L492.74,452.29 L493.13,452.29 L493.51,452.29 L493.90,452.29 L494.28,452.30 L494.67,452.30 L495.05,452.30 L495.44,452.30 L495.82,452.30 L496.21,452.30 L496.59,452.30 L496.97,452.30 L497.36,452.30 L497.74,452.30 L498.13,452.30 L498.51,452.30 L498.90,452.30 L499.28,452.30 L499.67,452.31 L500.05,452.31 L500.44,452.31 L500.82,452.31 L501.21,452.31 L501.59,452.31 L501.97,452.31 L502.36,452.31 L502.74,452.31 L503.13,452.31 L503.51,452.31 L503.90,452.31 L504.28,452.31 L504.67,452.31 L505.05,452.32 L505.44,452.32 L505.82,452.32 L506.21,452.32 L506.59,452.32 L506.98,452.32 L507.36,452.32 L507.74,452.32 L508.13,452.32 L508.51,452.32 L508.90,452.32 L509.28,452.32 L509.67,452.32 L510.05,452.32 L510.44,452.33 L510.82,452.33 L511.21,452.33 L511.59,452.33 L511.98,452.33 L512.36,452.33 L512.74,452.33 L513.13,452.33 L513.51,452.33 L513.90,452.33 L514.28,452.33 L514.67,452.33 L515.05,452.33 L515.44,452.33 L515.82,452.34 L516.21,452.34 L516.59,452.34 L516.98,452.34 L517.36,452.34 L517.75,452.34 L518.13,452.34 L518.51,452.34 L518.90,452.34 L519.28,452.34 L519.67,452.34 L520.05,452.34 L520.44,452.34 L520.82,452.34 L521.21,452.34 L521.59,452.35 L521.98,452.35 L522.36,452.35 L522.75,452.35 L523.13,452.35 L523.51,452.35 L523.90,452.35 L524.28,452.35 L524.67,452.35 L525.05,452.35 L525.44,452.35 L525.82,452.35 L526.21,452.35 L526.59,452.35 L526.98,452.35 L527.36,452.36 L527.75,452.36 L528.13,452.36 L528.52,452.36 L528.90,452.36 L529.28,452.36 L529.67,452.36 L530.05,452.36 L530.44,452.36 L530.82,452.36 L531.21,452.36 L531.59,452.36 L531.98,452.36 L532.36,452.36 L532.75,452.36 L533.13,452.37 L533.52,452.37 L533.90,452.37" fill="none" stroke="#e5363a" stroke-width="1.6" stroke-linejoin="round" stroke-linecap="round"/>
<path d="M303.50,454.81 L303.88,454.80 L304.27,454.78 L304.65,454.77 L305.04,454.76 L305.42,454.75 L305.81,454.74 L306.19,454.72 L306.58,454.71 L306.96,454.70 L307.35,454.68 L307.73,454.67 L308.12,454.66 L308.50,454.64 L308.88,454.63 L309.27,454.61 L309.65,454.60 L310.04,454.58 L310.42,454.57 L310.81,454.55 L311.19,454.54 L311.58,454.52 L311.96,454.50 L312.35,454.49 L312.73,454.47 L313.12,454.45 L313.50,454.44 L313.89,454.42 L314.27,454.40 L314.65,454.39 L315.04,454.37 L315.42,454.35 L315.81,454.33 L316.19,454.31 L316.58,454.29 L316.96,454.27 L317.35,454.26 L317.73,454.24 L318.12,454.22 L318.50,454.20 L318.89,454.18 L319.27,454.16 L319.65,454.14 L320.04,454.11 L320.42,454.09 L320.81,454.07 L321.19,454.05 L321.58,454.03 L321.96,454.01 L322.35,453.99 L322.73,453.96 L323.12,453.94 L323.50,453.92 L323.89,453.90 L324.27,453.87 L324.66,453.85 L325.04,453.82 L325.42,453.80 L325.81,453.77 L326.19,453.75 L326.58,453.72 L326.96,453.70 L327.35,453.67 L327.73,453.64 L328.12,453.62 L328.50,453.59 L328.89,453.56 L329.27,453.53 L329.66,453.50 L330.04,453.47 L330.42,453.44 L330.81,453.41 L331.19,453.38 L331.58,453.35 L331.96,453.32 L332.35,453.29 L332.73,453.25 L333.12,453.22 L333.50,453.19 L333.89,453.15 L334.27,453.12 L334.66,453.09 L335.04,453.05 L335.43,453.02 L335.81,452.98 L336.19,452.94 L336.58,452.91 L336.96,452.87 L337.35,452.83 L337.73,452.80 L338.12,452.76 L338.50,452.72 L338.89,452.68 L339.27,452.64 L339.66,452.60 L340.04,452.57 L340.43,452.53 L340.81,452.48 L341.19,452.44 L341.58,452.40 L341.96,452.36 L342.35,452.32 L342.73,452.27 L343.12,452.23 L343.50,452.19 L343.89,452.14 L344.27,452.09 L344.66,452.05 L345.04,452.00 L345.43,451.95 L345.81,451.91 L346.20,451.86 L346.58,451.81 L346.96,451.76 L347.35,451.71 L347.73,451.65 L348.12,451.60 L348.50,451.55 L348.89,451.50 L349.27,451.44 L349.66,451.39 L350.04,451.33 L350.43,451.27 L350.81,451.22 L351.20,451.16 L351.58,451.10 L351.96,451.04 L352.35,450.98 L352.73,450.92 L353.12,450.86 L353.50,450.79 L353.89,450.73 L354.27,450.66 L354.66,450.60 L355.04,450.53 L355.43,450.46 L355.81,450.39 L356.20,450.32 L356.58,450.25 L356.97,450.18 L357.35,450.10 L357.73,450.03 L358.12,449.95 L358.50,449.88 L358.89,449.80 L359.27,449.72 L359.66,449.63 L360.04,449.55 L360.43,449.46 L360.81,449.38 L361.20,449.29 L361.58,449.20 L361.97,449.11 L362.35,449.01 L362.73,448.92 L363.12,448.82 L363.50,448.72 L363.89,448.62 L364.27,448.52 L364.66,448.41 L365.04,448.31 L365.43,448.20 L365.81,448.09 L366.20,447.98 L366.58,447.86 L366.97,447.75 L367.35,447.63 L367.74,447.51 L368.12,447.39 L368.50,447.26 L368.89,447.14 L369.27,447.01 L369.66,446.88 L370.04,446.74 L370.43,446.61 L370.81,446.47 L371.20,446.33 L371.58,446.19 L371.97,446.05 L372.35,445.90 L372.74,445.74 L373.12,445.59 L373.50,445.43 L373.89,445.26 L374.27,445.10 L374.66,444.93 L375.04,444.75 L375.43,444.57 L375.81,444.40 L376.20,444.21 L376.58,444.03 L376.97,443.84 L377.35,443.65 L377.74,443.45 L378.12,443.26 L378.51,443.06 L378.89,442.85 L379.27,442.65 L379.66,442.44 L380.04,442.23 L380.43,442.02 L380.81,441.81 L381.20,441.59 L381.58,441.37 L381.97,441.15 L382.35,440.93 L382.74,440.71 L383.12,440.48 L383.51,440.25 L383.89,440.01 L384.27,439.77 L384.66,439.52 L385.04,439.27 L385.43,439.01 L385.81,438.75 L386.20,438.49 L386.58,438.21 L386.97,437.93 L387.35,437.65 L387.74,437.36 L388.12,437.07 L388.51,436.77 L388.89,436.46 L389.27,436.15 L389.66,435.83 L390.04,435.50 L390.43,435.17 L390.81,434.83 L391.20,434.48 L391.58,434.12 L391.97,433.76 L392.35,433.39 L392.74,433.02 L393.12,432.63 L393.51,432.24 L393.89,431.84 L394.28,431.43 L394.66,431.02 L395.04,430.60 L395.43,430.18 L395.81,429.74 L396.20,429.31 L396.58,428.86 L396.97,428.41 L397.35,427.95 L397.74,427.48 L398.12,427.01 L398.51,426.52 L398.89,426.03 L399.28,425.52 L399.66,425.01 L400.04,424.48 L400.43,423.95 L400.81,423.40 L401.20,422.84 L401.58,422.27 L401.97,421.69 L402.35,421.09 L402.74,420.48 L403.12,419.86 L403.51,419.23 L403.89,418.59 L404.28,417.95 L404.66,417.29 L405.05,416.63 L405.43,415.96 L405.81,415.27 L406.20,414.58 L406.58,413.88 L406.97,413.16 L407.35,412.43 L407.74,411.69 L408.12,410.93 L408.51,410.16 L408.89,409.37 L409.28,408.57 L409.66,407.76 L410.05,406.93 L410.43,406.09 L410.81,405.25 L411.20,404.40 L411.58,403.54 L411.97,402.69 L412.35,401.83 L412.74,400.98 L413.12,400.13 L413.51,399.29 L413.89,398.45 L414.28,397.63 L414.66,396.81 L415.05,396.00 L415.43,395.21 L415.82,394.42 L416.20,393.65 L416.58,392.91 L416.97,392.20 L417.35,391.51 L417.74,390.87 L418.12,390.27 L418.51,389.71 L418.89,389.19 L419.28,388.71 L419.66,388.27 L420.05,387.87 L420.43,387.51 L420.82,387.20 L421.20,386.93 L421.58,386.71 L421.97,386.54 L422.35,386.42 L422.74,386.34 L423.12,386.32 L423.51,386.33 L423.89,386.37 L424.28,386.45 L424.66,386.55 L425.05,386.68 L425.43,386.82 L425.82,386.96 L426.20,387.10 L426.59,387.26 L426.97,387.43 L427.35,387.61 L427.74,387.83 L428.12,388.07 L428.51,388.34 L428.89,388.66 L429.28,389.02 L429.66,389.43 L430.05,389.90 L430.43,390.45 L430.82,391.09 L431.20,391.77 L431.59,392.45 L431.97,393.09 L432.35,393.72 L432.74,394.36 L433.12,395.00 L433.51,395.66 L433.89,396.32 L434.28,396.99 L434.66,397.67 L435.05,398.37 L435.43,399.09 L435.82,399.84 L436.20,400.61 L436.59,401.41 L436.97,402.22 L437.36,403.05 L437.74,403.88 L438.12,404.70 L438.51,405.53 L438.89,406.34 L439.28,407.13 L439.66,407.90 L440.05,408.64 L440.43,409.35 L440.82,410.02 L441.20,410.68 L441.59,411.32 L441.97,411.95 L442.36,412.57 L442.74,413.18 L443.12,413.78 L443.51,414.37 L443.89,414.95 L444.28,415.52 L444.66,416.08 L445.05,416.64 L445.43,417.20 L445.82,417.75 L446.20,418.29 L446.59,418.83 L446.97,419.35 L447.36,419.86 L447.74,420.37 L448.13,420.86 L448.51,421.35 L448.89,421.83 L449.28,422.30 L449.66,422.77 L450.05,423.22 L450.43,423.67 L450.82,424.12 L451.20,424.56 L451.59,424.99 L451.97,425.42 L452.36,425.83 L452.74,426.24 L453.13,426.64 L453.51,427.03 L453.89,427.42 L454.28,427.80 L454.66,428.17 L455.05,428.54 L455.43,428.91 L455.82,429.27 L456.20,429.63 L456.59,429.99 L456.97,430.34 L457.36,430.69 L457.74,431.03 L458.13,431.36 L458.51,431.68 L458.89,432.00 L459.28,432.32 L459.66,432.62 L460.05,432.93 L460.43,433.23 L460.82,433.52 L461.20,433.81 L461.59,434.09 L461.97,434.38 L462.36,434.66 L462.74,434.93 L463.13,435.21 L463.51,435.48 L463.90,435.74 L464.28,436.00 L464.66,436.26 L465.05,436.51 L465.43,436.76 L465.82,437.00 L466.20,437.24 L466.59,437.48 L466.97,437.71 L467.36,437.93 L467.74,438.15 L468.13,438.37 L468.51,438.59 L468.90,438.79 L469.28,439.00 L469.66,439.20 L470.05,439.40 L470.43,439.60 L470.82,439.79 L471.20,439.99 L471.59,440.18 L471.97,440.38 L472.36,440.57 L472.74,440.76 L473.13,440.95 L473.51,441.13 L473.90,441.32 L474.28,441.50 L474.67,441.68 L475.05,441.85 L475.43,442.02 L475.82,442.19 L476.20,442.36 L476.59,442.52 L476.97,442.68 L477.36,442.84 L477.74,443.00 L478.13,443.15 L478.51,443.31 L478.90,443.46 L479.28,443.61 L479.67,443.76 L480.05,443.91 L480.43,444.06 L480.82,444.20 L481.20,444.34 L481.59,444.48 L481.97,444.62 L482.36,444.75 L482.74,444.89 L483.13,445.02 L483.51,445.14 L483.90,445.27 L484.28,445.39 L484.67,445.51 L485.05,445.63 L485.44,445.75 L485.82,445.87 L486.20,445.98 L486.59,446.10 L486.97,446.21 L487.36,446.32 L487.74,446.43 L488.13,446.54 L488.51,446.65 L488.90,446.76 L489.28,446.86 L489.67,446.97 L490.05,447.08 L490.44,447.19 L490.82,447.30 L491.20,447.41 L491.59,447.52 L491.97,447.63 L492.36,447.74 L492.74,447.85 L493.13,447.95 L493.51,448.04 L493.90,448.12 L494.28,448.20 L494.67,448.27 L495.05,448.35 L495.44,448.41 L495.82,448.48 L496.21,448.55 L496.59,448.61 L496.97,448.67 L497.36,448.74 L497.74,448.80 L498.13,448.85 L498.51,448.91 L498.90,448.97 L499.28,449.02 L499.67,449.08 L500.05,449.13 L500.44,449.18 L500.82,449.23 L501.21,449.28 L501.59,449.33 L501.97,449.38 L502.36,449.42 L502.74,449.47 L503.13,449.52 L503.51,449.56 L503.90,449.61 L504.28,449.65 L504.67,449.69 L505.05,449.74 L505.44,449.78 L505.82,449.82 L506.21,449.86 L506.59,449.90 L506.98,449.94 L507.36,449.98 L507.74,450.02 L508.13,450.06 L508.51,450.10 L508.90,450.13 L509.28,450.17 L509.67,450.21 L510.05,450.24 L510.44,450.27 L510.82,450.31 L511.21,450.34 L511.59,450.37 L511.98,450.40 L512.36,450.43 L512.74,450.46 L513.13,450.49 L513.51,450.51 L513.90,450.54 L514.28,450.57 L514.67,450.59 L515.05,450.62 L515.44,450.64 L515.82,450.67 L516.21,450.69 L516.59,450.71 L516.98,450.74 L517.36,450.76 L517.75,450.78 L518.13,450.80 L518.51,450.82 L518.90,450.85 L519.28,450.87 L519.67,450.89 L520.05,450.91 L520.44,450.93 L520.82,450.95 L521.21,450.97 L521.59,450.99 L521.98,451.01 L522.36,451.03 L522.75,451.06 L523.13,451.08 L523.51,451.10 L523.90,451.12 L524.28,451.14 L524.67,451.15 L525.05,451.17 L525.44,451.19 L525.82,451.21 L526.21,451.23 L526.59,451.25 L526.98,451.27 L527.36,451.29 L527.75,451.30 L528.13,451.32 L528.52,451.34 L528.90,451.36 L529.28,451.38 L529.67,451.39 L530.05,451.41 L530.44,451.43 L530.82,451.44 L531.21,451.46 L531.59,451.48 L531.98,451.49 L532.36,451.51 L532.75,451.52 L533.13,451.54 L533.52,451.56 L533.90,451.57" fill="none" stroke="#3d7a10" stroke-width="1.6" stroke-linejoin="round" stroke-linecap="round"/>
<line x1="394.40" y1="339.80" x2="394.40" y2="482.20" stroke="#111" stroke-width="1.7" stroke-dasharray="8.6 3.9 1.6 3.9" stroke-dashoffset="0"/>
<line x1="424.40" y1="389.00" x2="424.40" y2="482.20" stroke="#111" stroke-width="1.7" stroke-dasharray="8.6 3.9 1.6 3.9" stroke-dashoffset="0"/>
<line x1="181.4" y1="27.8" x2="204.9" y2="27.8" stroke="#2b70d8" stroke-width="2"/>
<text transform="translate(210.00,32.70) scale(1,1.15)" class="t">O-C-O</text>
<line x1="181.4" y1="43.4" x2="204.9" y2="43.4" stroke="#e5363a" stroke-width="2"/>
<text transform="translate(210.00,48.30) scale(1,1.15)" class="t">C-Si</text>
<line x1="453.0" y1="25.9" x2="476.8" y2="25.9" stroke="#1414e6" stroke-width="2"/>
<text transform="translate(481.80,30.70) scale(1,1.15)" class="t">C-Al<tspan class="sub" dy="2.6">2</tspan><tspan dy="-2.6">O</tspan><tspan class="sub" dy="2.6">3</tspan></text>
<line x1="453.0" y1="44.5" x2="476.8" y2="44.5" stroke="#e5363a" stroke-width="2"/>
<text transform="translate(481.80,49.00) scale(1,1.15)" class="t">C-Si</text>
<line x1="173.1" y1="294.5" x2="197.0" y2="294.5" stroke="#1a30e8" stroke-width="2"/>
<text transform="translate(202.00,299.50) scale(1,1.15)" class="t">C-Al<tspan class="sub" dy="2.6">2</tspan><tspan dy="-2.6">O</tspan><tspan class="sub" dy="2.6">3</tspan></text>
<line x1="173.1" y1="313.3" x2="197.0" y2="313.3" stroke="#e5363a" stroke-width="2"/>
<text transform="translate(202.00,318.20) scale(1,1.15)" class="t">C-Si</text>
<line x1="468.3" y1="291.4" x2="492.0" y2="291.4" stroke="#3d7a10" stroke-width="2"/>
<text transform="translate(497.20,296.20) scale(1,1.15)" class="t">C-O</text>
<line x1="468.3" y1="306.6" x2="492.0" y2="306.6" stroke="#e5363a" stroke-width="2"/>
<text transform="translate(497.20,311.60) scale(1,1.15)" class="t">C-Si</text>
</svg>
</body></html>
